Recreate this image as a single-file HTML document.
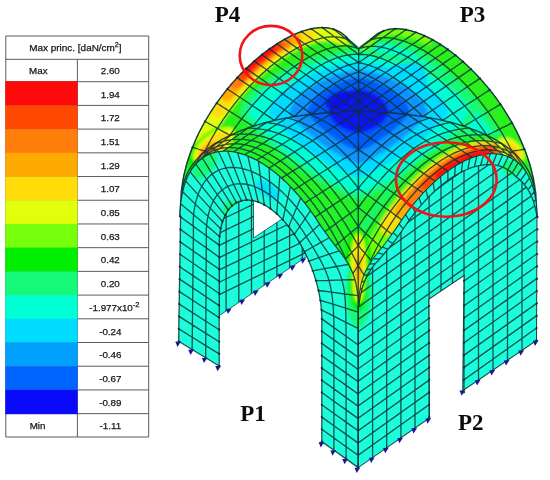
<!DOCTYPE html>
<html><head><meta charset="utf-8"><title>Max princ. stress</title>
<style>
html,body{margin:0;padding:0;background:#fff;}
svg{display:block;}
text{font-family:"Liberation Sans",sans-serif;}
.lb{font-family:"Liberation Serif",serif;font-weight:bold;font-size:23px;fill:#0c0c0c;}
</style></head><body>
<svg width="550" height="480" viewBox="0 0 550 480">
<defs>
<filter id="bl" x="-20%" y="-20%" width="140%" height="140%"><feGaussianBlur stdDeviation="1.8"/></filter>
<filter id="bl2" x="-20%" y="-20%" width="140%" height="140%"><feGaussianBlur stdDeviation="1.2"/></filter>
<filter id="soft" x="-5%" y="-5%" width="110%" height="110%"><feGaussianBlur stdDeviation="0.7"/></filter>
</defs>
<rect width="550" height="480" fill="#fff"/>
<path d="M5.8,36.00 L148.7,36.00 M5.8,59.30 L148.7,59.30 M5.8,81.70 L148.7,81.70 M5.8,105.41 L148.7,105.41 M5.8,129.12 L148.7,129.12 M5.8,152.83 L148.7,152.83 M5.8,176.54 L148.7,176.54 M5.8,200.25 L148.7,200.25 M5.8,223.96 L148.7,223.96 M5.8,247.67 L148.7,247.67 M5.8,271.38 L148.7,271.38 M5.8,295.09 L148.7,295.09 M5.8,318.80 L148.7,318.80 M5.8,342.51 L148.7,342.51 M5.8,366.22 L148.7,366.22 M5.8,389.93 L148.7,389.93 M5.8,413.64 L148.7,413.64 M5.8,437.00 L148.7,437.00 M5.8,36.00 L5.8,437.00 M148.7,36.00 L148.7,437.00 M77.4,59.30 L77.4,437.00" fill="none" stroke="#4a4a4a" stroke-width="0.9"/>
<rect x="5.3" y="81.20" width="72.3" height="24.41" fill="#ff0a0a"/>
<rect x="5.3" y="105.41" width="72.3" height="23.91" fill="#ff4800"/>
<rect x="5.3" y="129.12" width="72.3" height="23.91" fill="#ff7d0a"/>
<rect x="5.3" y="152.83" width="72.3" height="23.91" fill="#ffaa00"/>
<rect x="5.3" y="176.54" width="72.3" height="23.91" fill="#ffdc0a"/>
<rect x="5.3" y="200.25" width="72.3" height="23.91" fill="#e1ff0a"/>
<rect x="5.3" y="223.96" width="72.3" height="23.91" fill="#78ff0a"/>
<rect x="5.3" y="247.67" width="72.3" height="23.91" fill="#00f000"/>
<rect x="5.3" y="271.38" width="72.3" height="23.91" fill="#14fa78"/>
<rect x="5.3" y="295.09" width="72.3" height="23.91" fill="#00ffd2"/>
<rect x="5.3" y="318.80" width="72.3" height="23.91" fill="#00dcff"/>
<rect x="5.3" y="342.51" width="72.3" height="23.91" fill="#00a0ff"/>
<rect x="5.3" y="366.22" width="72.3" height="23.91" fill="#0064ff"/>
<rect x="5.3" y="389.93" width="72.3" height="24.21" fill="#0a0afa"/>
<text x="75.4" y="50.6" font-size="9.95" fill="#161616" stroke="#161616" stroke-width="0.25" text-anchor="middle">Max princ. [daN/cm<tspan font-size="7" dy="-3.4">2</tspan><tspan dy="3.4">]</tspan></text>
<text x="38.3" y="74.4" font-size="9.8" fill="#161616" stroke="#161616" stroke-width="0.25" text-anchor="middle">Max</text>
<text x="37.6" y="428.8" font-size="9.8" fill="#161616" stroke="#161616" stroke-width="0.25" text-anchor="middle">Min</text>
<text x="110.3" y="74.4" font-size="9.8" fill="#161616" stroke="#161616" stroke-width="0.25" text-anchor="middle">2.60</text>
<text x="110.3" y="97.5" font-size="9.8" fill="#161616" stroke="#161616" stroke-width="0.25" text-anchor="middle">1.94</text>
<text x="110.3" y="121.2" font-size="9.8" fill="#161616" stroke="#161616" stroke-width="0.25" text-anchor="middle">1.72</text>
<text x="110.3" y="144.9" font-size="9.8" fill="#161616" stroke="#161616" stroke-width="0.25" text-anchor="middle">1.51</text>
<text x="110.3" y="168.6" font-size="9.8" fill="#161616" stroke="#161616" stroke-width="0.25" text-anchor="middle">1.29</text>
<text x="110.3" y="192.3" font-size="9.8" fill="#161616" stroke="#161616" stroke-width="0.25" text-anchor="middle">1.07</text>
<text x="110.3" y="216.0" font-size="9.8" fill="#161616" stroke="#161616" stroke-width="0.25" text-anchor="middle">0.85</text>
<text x="110.3" y="239.7" font-size="9.8" fill="#161616" stroke="#161616" stroke-width="0.25" text-anchor="middle">0.63</text>
<text x="110.3" y="263.4" font-size="9.8" fill="#161616" stroke="#161616" stroke-width="0.25" text-anchor="middle">0.42</text>
<text x="110.3" y="287.1" font-size="9.8" fill="#161616" stroke="#161616" stroke-width="0.25" text-anchor="middle">0.20</text>
<text x="114.4" y="310.8" font-size="9.8" fill="#161616" stroke="#161616" stroke-width="0.25" text-anchor="middle">-1.977x10<tspan font-size="7.6" dy="-3.6">-2</tspan></text>
<text x="110.3" y="334.6" font-size="9.8" fill="#161616" stroke="#161616" stroke-width="0.25" text-anchor="middle">-0.24</text>
<text x="110.3" y="358.3" font-size="9.8" fill="#161616" stroke="#161616" stroke-width="0.25" text-anchor="middle">-0.46</text>
<text x="110.3" y="382.0" font-size="9.8" fill="#161616" stroke="#161616" stroke-width="0.25" text-anchor="middle">-0.67</text>
<text x="110.3" y="405.7" font-size="9.8" fill="#161616" stroke="#161616" stroke-width="0.25" text-anchor="middle">-0.89</text>
<text x="110.3" y="429.2" font-size="9.8" fill="#161616" stroke="#161616" stroke-width="0.25" text-anchor="middle">-1.11</text>
<g filter="url(#soft)">
<clipPath id="cv"><path d="M224.6,92.2 L213.4,107.6 L205.9,119.6 L198.5,133.5 L191.0,150.7 L187.3,161.7 L183.6,176.1 L179.9,217.1 L180.1,217.0 L183.9,187.4 L187.6,177.2 L191.3,170.4 L195.0,165.3 L198.7,161.4 L202.4,158.4 L206.1,156.0 L213.5,152.9 L220.9,151.5 L228.3,151.4 L235.7,152.4 L243.1,154.4 L250.5,157.3 L257.9,161.0 L269.0,168.1 L280.1,177.0 L287.6,183.9 L295.0,191.7 L302.4,200.3 L309.8,210.0 L317.2,220.8 L324.7,232.9 L332.1,246.6 L339.5,262.7 L343.2,271.9 L346.9,282.3 L350.6,294.5 L354.3,310.1 L358.1,345.1 L362.1,310.9 L365.8,295.7 L369.5,283.8 L373.2,273.6 L377.0,264.5 L384.4,248.8 L391.9,235.2 L399.3,223.3 L406.7,212.7 L414.2,203.1 L421.6,194.6 L429.1,186.9 L436.5,180.0 L447.7,171.1 L458.8,164.0 L466.3,160.2 L473.7,157.3 L481.2,155.2 L488.6,154.1 L496.0,154.0 L503.4,155.3 L510.9,158.2 L514.6,160.4 L518.3,163.2 L522.0,167.0 L525.7,171.8 L529.4,178.4 L533.1,188.3 L536.9,217.0 L537.1,217.1 L533.4,178.2 L529.7,163.7 L526.0,152.7 L518.6,135.2 L514.9,127.8 L507.4,114.7 L500.0,103.3 L488.9,88.5 L477.7,75.7 L466.6,64.6 L455.4,55.0 L444.3,46.8 L433.1,39.9 L422.0,34.5 L410.8,30.7 L403.4,29.1 L395.9,28.6 L388.5,29.3 L381.0,31.7 L377.3,33.8 L358.7,47.8 L344.0,34.8 L340.3,32.1 L336.5,30.1 L332.8,28.8 L329.0,28.0 L321.5,27.5 L314.1,28.2 L306.6,29.8 L299.1,32.3 L288.0,37.4 L276.8,43.8 L265.6,51.6 L254.4,60.7 L243.2,71.2 L232.0,83.2 L224.6,92.2Z"/></clipPath>
<path d="M224.6,92.2 L213.4,107.6 L205.9,119.6 L198.5,133.5 L191.0,150.7 L187.3,161.7 L183.6,176.1 L179.9,217.1 L180.1,217.0 L183.9,187.4 L187.6,177.2 L191.3,170.4 L195.0,165.3 L198.7,161.4 L202.4,158.4 L206.1,156.0 L213.5,152.9 L220.9,151.5 L228.3,151.4 L235.7,152.4 L243.1,154.4 L250.5,157.3 L257.9,161.0 L269.0,168.1 L280.1,177.0 L287.6,183.9 L295.0,191.7 L302.4,200.3 L309.8,210.0 L317.2,220.8 L324.7,232.9 L332.1,246.6 L339.5,262.7 L343.2,271.9 L346.9,282.3 L350.6,294.5 L354.3,310.1 L358.1,345.1 L362.1,310.9 L365.8,295.7 L369.5,283.8 L373.2,273.6 L377.0,264.5 L384.4,248.8 L391.9,235.2 L399.3,223.3 L406.7,212.7 L414.2,203.1 L421.6,194.6 L429.1,186.9 L436.5,180.0 L447.7,171.1 L458.8,164.0 L466.3,160.2 L473.7,157.3 L481.2,155.2 L488.6,154.1 L496.0,154.0 L503.4,155.3 L510.9,158.2 L514.6,160.4 L518.3,163.2 L522.0,167.0 L525.7,171.8 L529.4,178.4 L533.1,188.3 L536.9,217.0 L537.1,217.1 L533.4,178.2 L529.7,163.7 L526.0,152.7 L518.6,135.2 L514.9,127.8 L507.4,114.7 L500.0,103.3 L488.9,88.5 L477.7,75.7 L466.6,64.6 L455.4,55.0 L444.3,46.8 L433.1,39.9 L422.0,34.5 L410.8,30.7 L403.4,29.1 L395.9,28.6 L388.5,29.3 L381.0,31.7 L377.3,33.8 L358.7,47.8 L344.0,34.8 L340.3,32.1 L336.5,30.1 L332.8,28.8 L329.0,28.0 L321.5,27.5 L314.1,28.2 L306.6,29.8 L299.1,32.3 L288.0,37.4 L276.8,43.8 L265.6,51.6 L254.4,60.7 L243.2,71.2 L232.0,83.2 L224.6,92.2Z" fill="#1cfedb"/>
<g clip-path="url(#cv)"><g filter="url(#bl)">
<path d="M150.0,0.0 L550.0,0.0 L550.0,360.0 L150.0,360.0Z" fill="#22f226"/>
<path d="M202.3,148.2 L208.9,135.2 L215.5,123.8 L222.1,113.7 L228.7,104.5 L235.3,96.1 L241.9,88.4 L248.5,81.3 L255.1,74.7 L261.7,68.6 L268.3,63.0 L274.8,57.8 L281.4,53.1 L288.0,48.8 L294.6,45.0 L301.2,41.7 L307.8,38.9 L314.4,36.6 L321.0,35.1 L327.6,34.2 L334.2,34.4 L340.8,35.7 L347.4,38.6 L354.0,44.4 L360.6,50.3" fill="none" stroke="#2cf01c" stroke-width="30" stroke-linecap="round" stroke-linejoin="round"/>
<path d="M197.9,146.6 L204.0,133.8 L210.2,122.8 L216.3,113.0 L222.5,104.1 L228.6,95.9 L234.7,88.5 L240.9,81.5 L247.0,75.1 L253.2,69.2 L259.3,63.6 L265.5,58.5 L271.6,53.8 L277.8,49.4 L283.9,45.5 L290.1,41.9 L296.2,38.8 L302.4,36.1 L308.5,33.9 L314.6,32.3 L320.8,31.2 L326.9,30.9 L333.1,31.5 L339.2,33.2 L345.4,36.5" fill="none" stroke="#78ff0a" stroke-width="20" stroke-linecap="round" stroke-linejoin="round"/>
<path d="M358.7,48.1 L366.0,44.7 L373.2,43.3 L380.4,43.3 L387.6,44.4 L394.8,46.4 L402.1,49.1 L409.3,52.6 L416.5,56.6 L423.7,61.2 L430.9,66.4 L438.2,72.1 L445.4,78.4 L452.6,85.2 L459.8,92.6 L467.1,100.6 L474.3,109.3 L481.5,118.8 L488.7,129.0 L495.9,140.0 L495.9,140.0 L483.4,133.7 L471.0,128.7 L458.5,124.6 L446.0,121.3 L433.5,118.5 L421.0,116.3 L408.5,114.6 L396.0,113.3 L383.5,112.3 L371.0,111.8 L358.5,111.6 L358.5,111.6 L358.5,102.9 L358.5,94.6 L358.6,86.8 L358.6,79.6 L358.6,72.8 L358.6,66.7 L358.6,61.1 L358.7,56.3 L358.7,52.4 L358.7,49.6 L358.7,48.1 L358.7,48.1" fill="none" stroke="#14fa78" stroke-width="14" stroke-linecap="round" stroke-linejoin="round"/>
<path d="M358.7,48.1 L366.0,44.7 L373.2,43.3 L380.4,43.3 L387.6,44.4 L394.8,46.4 L402.1,49.1 L409.3,52.6 L416.5,56.6 L423.7,61.2 L430.9,66.4 L438.2,72.1 L445.4,78.4 L452.6,85.2 L459.8,92.6 L467.1,100.6 L474.3,109.3 L481.5,118.8 L488.7,129.0 L495.9,140.0 L495.9,140.0 L483.4,133.7 L471.0,128.7 L458.5,124.6 L446.0,121.3 L433.5,118.5 L421.0,116.3 L408.5,114.6 L396.0,113.3 L383.5,112.3 L371.0,111.8 L358.5,111.6 L358.5,111.6 L358.5,102.9 L358.5,94.6 L358.6,86.8 L358.6,79.6 L358.6,72.8 L358.6,66.7 L358.6,61.1 L358.7,56.3 L358.7,52.4 L358.7,49.6 L358.7,48.1Z" fill="#00ffd2"/>
<path d="M357.9,55.3 L364.8,45.0 L371.6,38.2 L378.5,34.6 L385.4,32.9 L392.2,32.5 L399.1,33.2 L406.0,34.7 L412.8,36.9 L419.7,39.7 L426.6,43.2 L433.4,47.1 L440.3,51.7 L447.2,56.7 L454.0,62.2 L460.9,68.2 L467.8,74.8 L474.6,82.0 L481.5,89.8 L488.4,98.4 L495.3,107.7 L502.1,118.1 L509.0,129.6 L515.9,142.9 L522.7,158.5" fill="none" stroke="#2cf01c" stroke-width="16" stroke-linecap="round" stroke-linejoin="round"/>
<path d="M363.2,49.6 L365.9,44.9 L368.6,41.3 L371.3,38.6 L373.9,36.5 L376.6,34.8 L379.3,33.4 L382.0,32.4 L384.6,31.7 L387.3,31.1 L390.0,30.8 L392.6,30.6 L395.3,30.7 L398.0,30.8 L400.7,31.1 L403.3,31.6 L406.0,32.1 L408.7,32.8 L411.4,33.6 L414.0,34.5 L416.7,35.5 L419.4,36.5 L422.1,37.7 L424.7,39.0 L427.4,40.3" fill="none" stroke="#78ff0a" stroke-width="9" stroke-linecap="round" stroke-linejoin="round"/>
<path d="M476.5,112.0 L475.6,114.1 L472.9,118.4 L468.5,124.2 L462.5,130.9 L455.0,138.4 L446.3,146.4 L436.7,154.5 L426.3,162.5 L415.5,170.3 L404.6,177.5 L393.9,184.0 L383.9,189.5 L374.8,194.0 L367.1,197.3 L361.4,199.3 L358.5,200.0 L355.6,199.3 L349.9,197.3 L342.2,194.0 L333.1,189.5 L323.1,184.0 L312.4,177.5 L301.5,170.3 L290.7,162.5 L280.3,154.5 L270.7,146.4 L262.0,138.4 L254.5,130.9 L248.5,124.2 L244.1,118.4 L241.4,114.1 L240.5,112.0 L241.2,108.5 L243.3,103.8 L246.8,98.6 L251.6,93.0 L257.7,87.4 L264.8,81.8 L273.0,76.3 L282.0,71.1 L291.7,66.3 L301.9,62.0 L312.4,58.2 L323.0,54.9 L333.4,52.4 L343.2,50.5 L352.0,49.4 L358.5,49.0 L365.0,49.4 L373.8,50.5 L383.6,52.4 L394.0,54.9 L404.6,58.2 L415.1,62.0 L425.3,66.3 L435.0,71.1 L444.0,76.3 L452.2,81.8 L459.3,87.4 L465.4,93.0 L470.2,98.6 L473.7,103.8 L475.8,108.5Z" fill="#14fa78"/>
<path d="M468.5,112.0 L467.7,114.0 L465.1,117.9 L461.0,123.2 L455.4,129.4 L448.5,136.3 L440.4,143.6 L431.4,151.1 L421.7,158.5 L411.6,165.7 L401.5,172.3 L391.5,178.2 L382.2,183.4 L373.7,187.5 L366.5,190.5 L361.2,192.4 L358.5,193.0 L355.8,192.4 L350.5,190.5 L343.3,187.5 L334.8,183.4 L325.5,178.2 L315.5,172.3 L305.4,165.7 L295.3,158.5 L285.6,151.1 L276.6,143.6 L268.5,136.3 L261.6,129.4 L256.0,123.2 L251.9,117.9 L249.3,114.0 L248.5,112.0 L249.2,108.9 L251.1,104.6 L254.4,99.9 L258.9,94.8 L264.5,89.7 L271.2,84.7 L278.8,79.7 L287.2,75.0 L296.2,70.7 L305.7,66.7 L315.5,63.3 L325.4,60.4 L335.1,58.1 L344.2,56.4 L352.5,55.3 L358.5,55.0 L364.5,55.3 L372.8,56.4 L381.9,58.1 L391.6,60.4 L401.5,63.3 L411.3,66.7 L420.8,70.7 L429.8,75.0 L438.2,79.7 L445.8,84.7 L452.5,89.7 L458.1,94.8 L462.6,99.9 L465.9,104.6 L467.8,108.9Z" fill="#00ffd2"/>
<path d="M448.5,112.0 L447.8,113.6 L445.7,116.8 L442.4,121.0 L437.8,126.0 L432.1,131.5 L425.5,137.4 L418.1,143.4 L410.2,149.3 L402.0,155.1 L393.6,160.4 L385.5,165.2 L377.9,169.3 L370.9,172.6 L365.1,175.0 L360.7,176.5 L358.5,177.0 L356.3,176.5 L351.9,175.0 L346.1,172.6 L339.1,169.3 L331.5,165.2 L323.4,160.4 L315.0,155.1 L306.8,149.3 L298.9,143.4 L291.5,137.4 L284.9,131.5 L279.2,126.0 L274.6,121.0 L271.3,116.8 L269.2,113.6 L268.5,112.0 L269.0,109.3 L270.7,105.5 L273.3,101.3 L277.0,97.0 L281.6,92.5 L287.0,88.0 L293.3,83.7 L300.1,79.6 L307.5,75.8 L315.3,72.3 L323.3,69.3 L331.4,66.7 L339.3,64.7 L346.8,63.2 L353.6,62.3 L358.5,62.0 L363.4,62.3 L370.2,63.2 L377.7,64.7 L385.6,66.7 L393.7,69.3 L401.7,72.3 L409.5,75.8 L416.9,79.6 L423.7,83.7 L430.0,88.0 L435.4,92.5 L440.0,97.0 L443.7,101.3 L446.3,105.5 L448.0,109.3Z" fill="#00dcff"/>
<ellipse cx="392" cy="93" rx="40" ry="24" fill="#00dcff" transform="rotate(-35 392 93)"/>
<path d="M427.5,112.0 L427.0,113.3 L425.4,115.8 L422.8,119.2 L419.3,123.2 L414.9,127.6 L409.9,132.3 L404.2,137.1 L398.1,141.9 L391.8,146.4 L385.4,150.7 L379.2,154.5 L373.3,157.8 L368.0,160.5 L363.5,162.4 L360.2,163.6 L358.5,164.0 L356.8,163.6 L353.5,162.4 L349.0,160.5 L343.7,157.8 L337.8,154.5 L331.6,150.7 L325.2,146.4 L318.9,141.9 L312.8,137.1 L307.1,132.3 L302.1,127.6 L297.7,123.2 L294.2,119.2 L291.6,115.8 L290.0,113.3 L289.5,112.0 L289.9,109.7 L291.2,106.6 L293.2,103.1 L296.0,99.4 L299.5,95.6 L303.7,91.9 L308.5,88.2 L313.8,84.8 L319.4,81.6 L325.4,78.7 L331.5,76.1 L337.7,74.0 L343.8,72.2 L349.6,71.0 L354.7,70.3 L358.5,70.0 L362.3,70.3 L367.4,71.0 L373.2,72.2 L379.3,74.0 L385.5,76.1 L391.6,78.7 L397.6,81.6 L403.2,84.8 L408.5,88.2 L413.3,91.9 L417.5,95.6 L421.0,99.4 L423.8,103.1 L425.8,106.6 L427.1,109.7Z" fill="#0a94ff"/>
<path d="M409.5,112.0 L409.1,112.9 L407.9,114.9 L406.0,117.4 L403.4,120.4 L400.2,123.7 L396.5,127.2 L392.3,130.8 L387.8,134.4 L383.1,137.8 L378.4,141.0 L373.8,143.9 L369.5,146.4 L365.5,148.3 L362.2,149.8 L359.7,150.7 L358.5,151.0 L357.3,150.7 L354.8,149.8 L351.5,148.3 L347.5,146.4 L343.2,143.9 L338.6,141.0 L333.9,137.8 L329.2,134.4 L324.7,130.8 L320.5,127.2 L316.8,123.7 L313.6,120.4 L311.0,117.4 L309.1,114.9 L307.9,112.9 L307.5,112.0 L307.8,110.1 L308.7,107.6 L310.2,104.8 L312.3,101.8 L314.9,98.7 L318.0,95.7 L321.5,92.8 L325.4,90.0 L329.6,87.4 L334.0,85.0 L338.6,82.9 L343.1,81.2 L347.6,79.8 L351.9,78.8 L355.7,78.2 L358.5,78.0 L361.3,78.2 L365.1,78.8 L369.4,79.8 L373.9,81.2 L378.4,82.9 L383.0,85.0 L387.4,87.4 L391.6,90.0 L395.5,92.8 L399.0,95.7 L402.1,98.7 L404.7,101.8 L406.8,104.8 L408.3,107.6 L409.2,110.1Z" fill="#005cfa"/>
<path d="M388.5,112.0 L388.3,113.3 L387.8,115.0 L387.0,116.8 L385.8,118.6 L384.3,120.5 L382.5,122.4 L380.5,124.2 L378.3,125.9 L375.9,127.4 L373.3,128.8 L370.7,130.1 L368.0,131.1 L365.3,131.9 L362.7,132.5 L360.3,132.9 L358.5,133.0 L356.7,132.9 L354.3,132.5 L351.7,131.9 L349.0,131.1 L346.3,130.1 L343.7,128.8 L341.1,127.4 L338.7,125.9 L336.5,124.2 L334.5,122.4 L332.7,120.5 L331.2,118.6 L330.0,116.8 L329.2,115.0 L328.7,113.3 L328.5,112.0 L328.7,110.2 L329.1,108.2 L329.9,106.1 L331.0,104.0 L332.4,101.9 L334.0,100.0 L335.9,98.1 L338.0,96.3 L340.3,94.7 L342.8,93.2 L345.4,92.0 L348.1,90.9 L350.8,90.1 L353.5,89.5 L356.2,89.1 L358.5,89.0 L360.8,89.1 L363.5,89.5 L366.2,90.1 L368.9,90.9 L371.6,92.0 L374.2,93.2 L376.7,94.7 L379.0,96.3 L381.1,98.1 L383.0,100.0 L384.6,101.9 L386.0,104.0 L387.1,106.1 L387.9,108.2 L388.3,110.2Z" fill="#0a12f2"/>
<ellipse cx="338" cy="100" rx="14" ry="8" fill="#0a0afa" transform="rotate(-25 338 100)" opacity="0.9"/>
<path d="M367.2,231.3 L372.4,223.1 L377.6,215.3 L382.8,208.0 L388.1,201.0 L393.3,194.4 L398.5,188.3 L403.7,182.5 L408.9,177.1 L414.1,172.1 L419.3,167.4 L424.6,163.1 L429.8,159.1 L435.0,155.6 L440.2,152.5 L445.4,149.7 L450.6,147.2 L455.9,145.2 L461.1,143.5 L466.3,142.2 L471.5,141.3 L476.7,140.8 L481.9,140.7 L487.1,141.0 L492.4,141.7" fill="none" stroke="#14fa78" stroke-width="14" stroke-linecap="round" stroke-linejoin="round"/>
<path d="M364.5,252.9 L370.5,242.1 L376.4,231.9 L382.4,222.4 L388.3,213.6 L394.3,205.4 L400.3,197.8 L406.2,190.8 L412.2,184.3 L418.1,178.3 L424.1,172.8 L430.1,167.8 L436.0,163.3 L442.0,159.3 L447.9,155.8 L453.9,152.7 L459.9,150.2 L465.8,148.1 L471.8,146.6 L477.7,145.7 L483.7,145.3 L489.7,145.6 L495.6,146.5 L501.6,148.2 L507.5,150.5" fill="none" stroke="#22f226" stroke-width="22" stroke-linecap="round" stroke-linejoin="round"/>
<path d="M206.8,152.6 L212.7,149.5 L218.6,147.2 L224.6,145.9 L230.5,145.3 L236.5,145.4 L242.4,146.2 L248.3,147.5 L254.3,149.5 L260.2,151.9 L266.2,154.9 L272.1,158.4 L278.0,162.4 L284.0,166.9 L289.9,172.0 L295.9,177.5 L301.8,183.6 L307.7,190.2 L313.7,197.4 L319.6,205.1 L325.6,213.5 L331.5,222.7 L337.4,232.6 L343.4,243.3 L349.3,255.0" fill="none" stroke="#22f226" stroke-width="14" stroke-linecap="round" stroke-linejoin="round"/>
<path d="M202.3,137.1 L208.1,126.3 L213.9,116.7 L219.7,108.0 L225.4,100.0 L231.2,92.7 L237.0,85.9 L242.8,79.5 L248.5,73.6 L254.3,68.1 L260.1,63.0 L265.8,58.2 L271.6,53.8 L277.4,49.7 L283.2,45.9 L288.9,42.5 L294.7,39.5 L300.5,36.9 L306.3,34.6 L312.0,32.9 L317.8,31.6 L323.6,31.0 L329.4,31.0 L335.1,31.9 L340.9,33.9" fill="none" stroke="#e1ff0a" stroke-width="20" stroke-linecap="round" stroke-linejoin="round"/>
<path d="M217.5,109.2 L221.3,103.9 L225.0,98.9 L228.7,94.1 L232.4,89.5 L236.2,85.2 L239.9,81.1 L243.6,77.1 L247.3,73.3 L251.1,69.7 L254.8,66.2 L258.5,62.9 L262.2,59.8 L266.0,56.8 L269.7,53.9 L273.4,51.2 L277.1,48.6 L280.9,46.2 L284.6,43.9 L288.3,41.8 L292.0,39.8 L295.8,37.9 L299.5,36.3 L303.2,34.8 L306.9,33.5" fill="none" stroke="#ffdc0a" stroke-width="17" stroke-linecap="round" stroke-linejoin="round"/>
<path d="M226.9,93.8 L229.7,90.3 L232.5,87.0 L235.3,83.7 L238.1,80.6 L240.9,77.6 L243.7,74.7 L246.5,71.9 L249.3,69.2 L252.1,66.6 L254.9,64.0 L257.7,61.6 L260.5,59.2 L263.2,56.9 L266.0,54.7 L268.8,52.6 L271.6,50.6 L274.4,48.6 L277.2,46.7 L280.0,44.9 L282.8,43.2 L285.6,41.6 L288.4,40.0 L291.2,38.6 L294.0,37.2" fill="none" stroke="#ffaa00" stroke-width="14" stroke-linecap="round" stroke-linejoin="round"/>
<path d="M235.4,82.8 L237.5,80.5 L239.5,78.3 L241.6,76.1 L243.6,74.0 L245.7,72.0 L247.7,70.0 L249.8,68.0 L251.8,66.1 L253.9,64.2 L255.9,62.4 L258.0,60.6 L260.0,58.9 L262.1,57.2 L264.1,55.6 L266.2,54.0 L268.2,52.4 L270.3,50.9 L272.3,49.5 L274.3,48.0 L276.4,46.7 L278.4,45.3 L280.5,44.0 L282.5,42.8 L284.6,41.6" fill="none" stroke="#ff7d0a" stroke-width="13" stroke-linecap="round" stroke-linejoin="round"/>
<path d="M241.2,75.7 L242.8,74.1 L244.3,72.6 L245.8,71.1 L247.3,69.6 L248.9,68.1 L250.4,66.7 L251.9,65.3 L253.5,63.9 L255.0,62.5 L256.5,61.2 L258.0,59.9 L259.6,58.6 L261.1,57.3 L262.6,56.1 L264.1,54.9 L265.7,53.7 L267.2,52.5 L268.7,51.4 L270.3,50.3 L271.8,49.2 L273.3,48.1 L274.8,47.1 L276.4,46.1 L277.9,45.1" fill="none" stroke="#ff4800" stroke-width="11" stroke-linecap="round" stroke-linejoin="round"/>
<path d="M244.8,70.6 L246.0,69.4 L247.1,68.3 L248.3,67.2 L249.4,66.1 L250.6,65.1 L251.7,64.0 L252.9,63.0 L254.1,61.9 L255.2,60.9 L256.4,59.9 L257.5,58.9 L258.7,58.0 L259.8,57.0 L261.0,56.1 L262.1,55.1 L263.3,54.2 L264.4,53.3 L265.6,52.4 L266.8,51.6 L267.9,50.7 L269.1,49.9 L270.2,49.0 L271.4,48.2 L272.5,47.4" fill="none" stroke="#ff0a0a" stroke-width="9" stroke-linecap="round" stroke-linejoin="round"/>
<path d="M369.0,258.0 L374.6,246.9 L380.3,236.7 L385.9,227.3 L391.6,218.6 L397.3,210.6 L402.9,203.1 L408.6,196.2 L414.2,189.8 L419.9,183.9 L425.6,178.5 L431.2,173.5 L436.9,168.9 L442.6,164.8 L448.2,161.1 L453.9,157.9 L459.5,155.1 L465.2,152.8 L470.9,151.0 L476.5,149.6 L482.2,148.8 L487.9,148.6 L493.5,149.0 L499.2,150.1 L504.8,152.0" fill="none" stroke="#78ff0a" stroke-width="17" stroke-linecap="round" stroke-linejoin="round"/>
<path d="M387.7,226.5 L392.5,219.2 L397.3,212.4 L402.0,206.0 L406.8,200.0 L411.6,194.4 L416.3,189.1 L421.1,184.2 L425.9,179.6 L430.6,175.3 L435.4,171.4 L440.2,167.7 L444.9,164.4 L449.7,161.4 L454.5,158.7 L459.2,156.3 L464.0,154.2 L468.8,152.5 L473.5,151.1 L478.3,150.1 L483.1,149.4 L487.9,149.2 L492.6,149.4 L497.4,150.2 L502.2,151.4" fill="none" stroke="#ffdc0a" stroke-width="16" stroke-linecap="round" stroke-linejoin="round"/>
<path d="M400.2,212.1 L404.3,206.6 L408.4,201.4 L412.5,196.6 L416.6,192.0 L420.7,187.6 L424.8,183.5 L428.9,179.6 L433.0,176.0 L437.1,172.6 L441.2,169.4 L445.3,166.5 L449.4,163.8 L453.5,161.4 L457.6,159.1 L461.7,157.2 L465.8,155.4 L469.9,153.9 L474.0,152.7 L478.1,151.7 L482.2,151.0 L486.3,150.6 L490.4,150.5 L494.5,150.8 L498.6,151.5" fill="none" stroke="#ffaa00" stroke-width="13" stroke-linecap="round" stroke-linejoin="round"/>
<path d="M410.1,201.1 L413.6,196.9 L417.2,192.9 L420.8,189.0 L424.4,185.4 L427.9,182.0 L431.5,178.7 L435.1,175.6 L438.7,172.7 L442.2,169.9 L445.8,167.4 L449.4,165.0 L453.0,162.8 L456.6,160.8 L460.1,158.9 L463.7,157.2 L467.3,155.8 L470.9,154.5 L474.4,153.4 L478.0,152.5 L481.6,151.8 L485.2,151.4 L488.7,151.2 L492.3,151.2 L495.9,151.6" fill="none" stroke="#ff7d0a" stroke-width="12" stroke-linecap="round" stroke-linejoin="round"/>
<path d="M425.3,186.0 L428.0,183.3 L430.8,180.7 L433.5,178.3 L436.3,175.9 L439.0,173.7 L441.8,171.5 L444.6,169.5 L447.3,167.6 L450.1,165.7 L452.8,164.0 L455.6,162.4 L458.3,160.9 L461.1,159.5 L463.9,158.2 L466.6,157.0 L469.4,155.9 L472.1,155.0 L474.9,154.1 L477.6,153.4 L480.4,152.8 L483.1,152.3 L485.9,152.0 L488.7,151.8 L491.4,151.8" fill="none" stroke="#ff4800" stroke-width="10" stroke-linecap="round" stroke-linejoin="round"/>
<path d="M439.1,175.6 L441.0,174.0 L443.0,172.5 L444.9,171.1 L446.9,169.7 L448.8,168.3 L450.7,167.0 L452.7,165.8 L454.6,164.6 L456.5,163.5 L458.5,162.4 L460.4,161.4 L462.4,160.4 L464.3,159.5 L466.2,158.6 L468.2,157.8 L470.1,157.0 L472.0,156.3 L474.0,155.7 L475.9,155.1 L477.9,154.6 L479.8,154.1 L481.7,153.7 L483.7,153.4 L485.6,153.1" fill="none" stroke="#ff0a0a" stroke-width="8" stroke-linecap="round" stroke-linejoin="round"/>
<ellipse cx="213" cy="147" rx="30" ry="15" fill="#00f000" transform="rotate(-38 213 147)"/>
<ellipse cx="214" cy="145" rx="25" ry="11.5" fill="#e1ff0a" transform="rotate(-38 214 145)"/>
<ellipse cx="213" cy="146" rx="20" ry="8.5" fill="#ffdc0a" transform="rotate(-38 213 146)"/>
<ellipse cx="209" cy="150" rx="11" ry="5.5" fill="#ffaa00" transform="rotate(-38 209 150)"/>
<ellipse cx="206" cy="153" rx="5.5" ry="3.2" fill="#ff7d0a" transform="rotate(-38 206 153)"/>
<ellipse cx="511" cy="150" rx="16" ry="9.5" fill="#e1ff0a" transform="rotate(40 511 150)"/>
<ellipse cx="512" cy="151" rx="11.5" ry="6.5" fill="#ffdc0a" transform="rotate(40 512 151)"/>
<ellipse cx="513" cy="153" rx="5" ry="3.5" fill="#ffaa00" transform="rotate(40 513 153)"/>
<ellipse cx="358.5" cy="270" rx="14" ry="42" fill="#00f000"/>
<ellipse cx="358.5" cy="266" rx="8" ry="33" fill="#e1ff0a"/>
<ellipse cx="358.5" cy="265" rx="5" ry="28" fill="#ffdc0a"/>
<ellipse cx="358.5" cy="268" rx="2.6" ry="14" fill="#ffaa00"/>
</g></g>
<path d="M269.1,168.0 L271.0,166.8 L272.8,165.6 L274.7,164.5 L276.6,163.3 L278.4,162.1 L280.3,160.9 L282.1,159.8 L284.0,158.6 L285.9,157.4 L287.7,156.2 L289.6,155.1 L291.4,153.9 L293.3,152.7 L295.2,151.5 L297.0,150.4 L298.9,149.2 L300.8,148.0 L302.6,146.8 L304.5,145.7 L306.4,144.5 L308.2,143.3 L310.1,142.2 L311.9,141.0 L313.8,139.8 L315.7,138.6 L317.5,137.4 L319.4,136.3 L321.2,135.1 L323.1,133.9 L325.0,132.8 L326.8,131.6 L328.7,130.4 L330.6,129.2 L332.4,128.0 L334.3,126.9 L336.1,125.7 L338.0,124.5 L339.9,123.4 L341.7,122.2 L343.6,121.0 L345.5,119.8 L347.3,118.6 L349.2,117.5 L351.1,116.3 L352.9,115.1 L354.8,113.9 L356.6,112.8 L358.5,111.6 M358.5,111.6 L360.4,112.8 L362.2,114.1 L364.1,115.3 L365.9,116.6 L367.8,117.8 L369.6,119.0 L371.5,120.3 L373.4,121.5 L375.2,122.7 L377.1,124.0 L378.9,125.2 L380.8,126.4 L382.6,127.7 L384.5,128.9 L386.3,130.2 L388.2,131.4 L390.1,132.6 L391.9,133.9 L393.8,135.1 L395.6,136.3 L397.5,137.6 L399.3,138.8 L401.2,140.1 L403.1,141.3 L404.9,142.5 L406.8,143.8 L408.6,145.0 L410.5,146.2 L412.3,147.5 L414.2,148.7 L416.0,150.0 L417.9,151.2 L419.8,152.4 L421.6,153.7 L423.5,154.9 L425.3,156.2 L427.2,157.4 L429.0,158.6 L430.9,159.9 L432.8,161.1 L434.6,162.3 L436.5,163.6 L438.3,164.8 L440.2,166.1 L442.0,167.3 L443.9,168.5 L445.7,169.8 L447.6,171.0 M281.6,178.1 L283.4,176.9 L285.3,175.7 L287.2,174.6 L289.1,173.4 L291.0,172.2 L292.8,171.1 L294.7,169.9 L296.6,168.7 L298.5,167.6 L300.3,166.4 L302.2,165.2 L304.1,164.1 L306.0,162.9 L307.8,161.7 L309.7,160.6 L311.6,159.4 L313.5,158.2 L315.3,157.1 L317.2,155.9 L319.1,154.7 L321.0,153.6 L322.8,152.4 L324.7,151.2 L326.6,150.1 L328.5,148.9 L330.3,147.7 L332.2,146.6 L334.1,145.4 L336.0,144.2 L337.8,143.1 L339.7,141.9 L341.6,140.7 L343.5,139.6 L345.3,138.4 L347.2,137.2 L349.1,136.1 L351.0,134.9 L352.8,133.7 L354.7,132.6 L356.6,131.4 L358.5,130.2 M383.5,112.3 L385.4,113.6 L387.2,114.8 L389.1,116.0 L391.0,117.3 L392.8,118.5 L394.7,119.8 L396.6,121.0 L398.4,122.2 L400.3,123.5 L402.2,124.7 L404.0,126.0 L405.9,127.2 L407.8,128.4 L409.7,129.7 L411.5,130.9 L413.4,132.2 L415.3,133.4 L417.1,134.6 L419.0,135.9 L420.9,137.1 L422.7,138.3 L424.6,139.6 L426.5,140.8 L428.3,142.1 L430.2,143.3 L432.1,144.5 L434.0,145.8 L435.8,147.0 L437.7,148.3 L439.6,149.5 L441.4,150.7 L443.3,152.0 L445.2,153.2 L447.0,154.5 L448.9,155.7 L450.8,156.9 L452.6,158.2 L454.5,159.4 L456.4,160.6 L458.2,161.9 L460.1,163.1 M293.6,190.0 L295.5,188.8 L297.3,187.7 L299.2,186.5 L301.0,185.4 L302.9,184.2 L304.7,183.0 L306.6,181.9 L308.4,180.7 L310.3,179.6 L312.1,178.4 L314.0,177.3 L315.8,176.1 L317.7,175.0 L319.5,173.8 L321.4,172.7 L323.2,171.5 L325.1,170.4 L326.9,169.2 L328.8,168.1 L330.6,166.9 L332.5,165.8 L334.3,164.6 L336.2,163.5 L338.0,162.3 L339.9,161.2 L341.8,160.0 L343.6,158.9 L345.5,157.7 L347.3,156.6 L349.2,155.4 L351.0,154.3 L352.9,153.1 L354.7,152.0 L356.6,150.8 L358.4,149.7 M407.6,114.5 L409.4,115.7 L411.3,116.9 L413.1,118.2 L415.0,119.4 L416.8,120.6 L418.7,121.9 L420.5,123.1 L422.4,124.3 L424.2,125.6 L426.0,126.8 L427.9,128.0 L429.7,129.3 L431.6,130.5 L433.4,131.7 L435.3,133.0 L437.1,134.2 L439.0,135.4 L440.8,136.7 L442.7,137.9 L444.5,139.1 L446.3,140.4 L448.2,141.6 L450.0,142.8 L451.9,144.1 L453.7,145.3 L455.6,146.5 L457.4,147.8 L459.3,149.0 L461.1,150.2 L463.0,151.5 L464.8,152.7 L466.6,153.9 L468.5,155.2 L470.3,156.4 L472.2,157.6 M304.7,203.0 L306.6,201.9 L308.4,200.7 L310.3,199.5 L312.1,198.3 L314.0,197.2 L315.8,196.0 L317.7,194.8 L319.5,193.7 L321.4,192.5 L323.2,191.3 L325.1,190.1 L326.9,189.0 L328.8,187.8 L330.6,186.6 L332.5,185.5 L334.3,184.3 L336.2,183.1 L338.0,181.9 L339.9,180.8 L341.7,179.6 L343.6,178.4 L345.4,177.2 L347.3,176.1 L349.1,174.9 L351.0,173.7 L352.8,172.6 L354.7,171.4 L356.5,170.2 L358.4,169.0 M429.9,117.8 L431.7,119.1 L433.6,120.4 L435.4,121.6 L437.3,122.9 L439.1,124.2 L441.0,125.4 L442.8,126.7 L444.6,128.0 L446.5,129.2 L448.3,130.5 L450.2,131.8 L452.0,133.0 L453.9,134.3 L455.7,135.6 L457.6,136.8 L459.4,138.1 L461.2,139.4 L463.1,140.6 L464.9,141.9 L466.8,143.2 L468.6,144.4 L470.5,145.7 L472.3,147.0 L474.1,148.2 L476.0,149.5 L477.8,150.8 L479.7,152.0 L481.5,153.3 L483.4,154.6 M315.0,217.1 L316.9,215.8 L318.8,214.6 L320.6,213.3 L322.5,212.1 L324.4,210.8 L326.3,209.6 L328.2,208.3 L330.1,207.1 L332.0,205.8 L333.8,204.6 L335.7,203.3 L337.6,202.1 L339.5,200.8 L341.4,199.6 L343.3,198.3 L345.1,197.1 L347.0,195.8 L348.9,194.6 L350.8,193.3 L352.7,192.1 L354.6,190.8 L356.5,189.5 L358.3,188.3 M450.4,122.4 L452.3,123.7 L454.2,125.1 L456.1,126.5 L457.9,127.8 L459.8,129.2 L461.7,130.6 L463.6,131.9 L465.5,133.3 L467.3,134.7 L469.2,136.0 L471.1,137.4 L473.0,138.7 L474.9,140.1 L476.7,141.5 L478.6,142.8 L480.5,144.2 L482.4,145.6 L484.2,146.9 L486.1,148.3 L488.0,149.7 L489.9,151.0 L491.8,152.4 L493.6,153.7 M324.3,232.0 L326.2,230.7 L328.1,229.3 L330.0,227.9 L331.9,226.6 L333.8,225.2 L335.7,223.8 L337.6,222.5 L339.4,221.1 L341.3,219.7 L343.2,218.4 L345.1,217.0 L347.0,215.6 L348.9,214.3 L350.8,212.9 L352.7,211.5 L354.5,210.2 L356.4,208.8 L358.3,207.4 M469.2,128.1 L471.1,129.6 L472.9,131.1 L474.8,132.6 L476.7,134.1 L478.6,135.5 L480.5,137.0 L482.3,138.5 L484.2,140.0 L486.1,141.5 L488.0,143.0 L489.9,144.5 L491.7,146.0 L493.6,147.5 L495.5,149.0 L497.4,150.5 L499.3,152.0 L501.1,153.5 L503.0,155.0 M332.8,247.8 L334.6,246.2 L336.4,244.7 L338.3,243.2 L340.1,241.7 L341.9,240.2 L343.7,238.6 L345.5,237.1 L347.4,235.6 L349.2,234.1 L351.0,232.6 L352.8,231.0 L354.6,229.5 L356.5,228.0 L358.3,226.5 M486.1,135.0 L487.9,136.6 L489.8,138.3 L491.6,140.0 L493.4,141.6 L495.2,143.3 L497.0,145.0 L498.8,146.6 L500.6,148.3 L502.5,150.0 L504.3,151.7 L506.1,153.3 L507.9,155.0 L509.7,156.7 L511.5,158.3 M340.4,264.4 L342.2,262.5 L344.0,260.7 L345.7,258.8 L347.5,256.9 L349.3,255.0 L351.1,253.2 L352.9,251.3 L354.7,249.4 L356.5,247.6 L358.3,245.7 M501.3,143.3 L503.1,145.3 L504.9,147.4 L506.6,149.4 L508.4,151.5 L510.2,153.5 L512.0,155.6 L513.8,157.6 L515.6,159.7 L517.3,161.7 L519.1,163.8 M347.1,282.3 L348.9,279.5 L350.8,276.7 L352.6,273.9 L354.5,271.1 L356.4,268.4 L358.2,265.6 M514.7,153.6 L516.5,156.6 L518.4,159.6 L520.3,162.7 L522.1,165.7 L524.0,168.7 L525.8,171.7 M256.6,160.2 L258.5,159.0 L260.4,157.8 L262.3,156.7 L264.1,155.5 L266.0,154.3 L267.9,153.2 L269.8,152.0 L271.6,150.8 L273.5,149.7 L275.4,148.5 L277.3,147.3 L279.1,146.2 L281.0,145.0 L282.9,143.8 L284.8,142.7 L286.6,141.5 L288.5,140.3 L290.4,139.2 L292.3,138.0 L294.1,136.8 L296.0,135.7 L297.9,134.5 L299.8,133.3 L301.6,132.2 L303.5,131.0 L305.4,129.8 L307.3,128.7 L309.1,127.5 L311.0,126.3 L312.9,125.2 L314.8,124.0 L316.6,122.8 L318.5,121.7 L320.4,120.5 L322.3,119.3 L324.1,118.2 L326.0,117.0 L327.9,115.8 L329.8,114.7 L331.6,113.5 L333.5,112.3 M358.5,130.2 L360.3,131.5 L362.2,132.7 L364.1,134.0 L365.9,135.2 L367.8,136.4 L369.7,137.7 L371.5,138.9 L373.4,140.2 L375.3,141.4 L377.1,142.6 L379.0,143.9 L380.9,145.1 L382.8,146.4 L384.6,147.6 L386.5,148.8 L388.4,150.1 L390.2,151.3 L392.1,152.5 L394.0,153.8 L395.8,155.0 L397.7,156.3 L399.6,157.5 L401.4,158.7 L403.3,160.0 L405.2,161.2 L407.1,162.5 L408.9,163.7 L410.8,164.9 L412.7,166.2 L414.5,167.4 L416.4,168.7 L418.3,169.9 L420.1,171.1 L422.0,172.4 L423.9,173.6 L425.7,174.8 L427.6,176.1 L429.5,177.3 L431.3,178.6 L433.2,179.8 L435.1,181.0 M244.6,154.8 L246.4,153.6 L248.3,152.5 L250.2,151.3 L252.0,150.2 L253.9,149.0 L255.7,147.8 L257.6,146.7 L259.4,145.5 L261.3,144.4 L263.1,143.2 L265.0,142.1 L266.8,140.9 L268.7,139.8 L270.5,138.6 L272.4,137.5 L274.2,136.3 L276.1,135.2 L277.9,134.0 L279.8,132.9 L281.6,131.7 L283.5,130.6 L285.3,129.4 L287.2,128.3 L289.0,127.1 L290.9,126.0 L292.7,124.8 L294.6,123.7 L296.4,122.5 L298.3,121.4 L300.2,120.2 L302.0,119.1 L303.9,117.9 L305.7,116.8 L307.6,115.6 L309.4,114.5 M358.4,149.7 L360.3,150.9 L362.1,152.1 L364.0,153.4 L365.8,154.6 L367.6,155.8 L369.5,157.1 L371.3,158.3 L373.2,159.5 L375.0,160.8 L376.9,162.0 L378.7,163.2 L380.6,164.5 L382.4,165.7 L384.3,166.9 L386.1,168.2 L387.9,169.4 L389.8,170.6 L391.6,171.9 L393.5,173.1 L395.3,174.3 L397.2,175.6 L399.0,176.8 L400.9,178.0 L402.7,179.3 L404.6,180.5 L406.4,181.7 L408.2,183.0 L410.1,184.2 L411.9,185.4 L413.8,186.7 L415.6,187.9 L417.5,189.1 L419.3,190.4 L421.2,191.6 L423.0,192.8 M233.5,151.8 L235.3,150.7 L237.2,149.5 L239.0,148.3 L240.9,147.1 L242.7,146.0 L244.6,144.8 L246.4,143.6 L248.3,142.5 L250.1,141.3 L252.0,140.1 L253.8,138.9 L255.7,137.8 L257.5,136.6 L259.4,135.4 L261.2,134.3 L263.1,133.1 L264.9,131.9 L266.8,130.7 L268.6,129.6 L270.5,128.4 L272.3,127.2 L274.2,126.0 L276.0,124.9 L277.9,123.7 L279.7,122.5 L281.6,121.4 L283.4,120.2 L285.3,119.0 L287.1,117.8 M358.4,169.0 L360.2,170.3 L362.1,171.6 L363.9,172.8 L365.8,174.1 L367.6,175.4 L369.4,176.6 L371.3,177.9 L373.1,179.2 L375.0,180.4 L376.8,181.7 L378.7,183.0 L380.5,184.2 L382.3,185.5 L384.2,186.8 L386.0,188.0 L387.9,189.3 L389.7,190.6 L391.6,191.8 L393.4,193.1 L395.2,194.4 L397.1,195.6 L398.9,196.9 L400.8,198.2 L402.6,199.4 L404.5,200.7 L406.3,202.0 L408.2,203.2 L410.0,204.5 L411.8,205.8 M223.2,151.2 L225.1,149.9 L227.0,148.7 L228.9,147.4 L230.8,146.2 L232.6,144.9 L234.5,143.7 L236.4,142.4 L238.3,141.2 L240.2,139.9 L242.1,138.7 L244.0,137.4 L245.8,136.2 L247.7,134.9 L249.6,133.6 L251.5,132.4 L253.4,131.1 L255.3,129.9 L257.1,128.6 L259.0,127.4 L260.9,126.1 L262.8,124.9 L264.7,123.6 L266.6,122.4 M358.3,188.3 L360.2,189.7 L362.1,191.0 L364.0,192.4 L365.9,193.8 L367.7,195.1 L369.6,196.5 L371.5,197.8 L373.4,199.2 L375.3,200.6 L377.1,201.9 L379.0,203.3 L380.9,204.7 L382.8,206.0 L384.6,207.4 L386.5,208.8 L388.4,210.1 L390.3,211.5 L392.2,212.8 L394.0,214.2 L395.9,215.6 L397.8,216.9 L399.7,218.3 L401.6,219.7 M213.9,152.7 L215.7,151.3 L217.6,149.9 L219.5,148.6 L221.4,147.2 L223.3,145.8 L225.2,144.5 L227.1,143.1 L229.0,141.7 L230.8,140.4 L232.7,139.0 L234.6,137.6 L236.5,136.3 L238.4,134.9 L240.3,133.5 L242.2,132.2 L244.1,130.8 L245.9,129.4 L247.8,128.1 M358.3,207.4 L360.2,208.9 L362.1,210.4 L364.0,211.9 L365.8,213.4 L367.7,214.9 L369.6,216.4 L371.5,217.9 L373.4,219.4 L375.2,220.9 L377.1,222.4 L379.0,223.9 L380.9,225.4 L382.8,226.9 L384.6,228.4 L386.5,229.9 L388.4,231.4 L390.3,232.9 L392.2,234.4 M205.4,156.2 L207.2,154.7 L209.0,153.2 L210.9,151.7 L212.7,150.2 L214.5,148.6 L216.3,147.1 L218.1,145.6 L220.0,144.1 L221.8,142.6 L223.6,141.0 L225.4,139.5 L227.2,138.0 L229.1,136.5 L230.9,135.0 M358.3,226.5 L360.1,228.1 L361.9,229.8 L363.7,231.5 L365.5,233.2 L367.4,234.8 L369.2,236.5 L371.0,238.2 L372.8,239.8 L374.6,241.5 L376.4,243.2 L378.2,244.8 L380.1,246.5 L381.9,248.2 L383.7,249.9 M197.8,162.0 L199.6,160.1 L201.4,158.3 L203.2,156.4 L205.0,154.5 L206.8,152.6 L208.5,150.8 L210.3,148.9 L212.1,147.0 L213.9,145.2 L215.7,143.3 M358.3,245.7 L360.0,247.7 L361.8,249.8 L363.6,251.8 L365.4,253.9 L367.2,255.9 L369.0,258.0 L370.7,260.0 L372.5,262.1 L374.3,264.1 L376.1,266.2 M191.1,170.3 L193.0,167.5 L194.9,164.7 L196.7,161.9 L198.6,159.1 L200.5,156.4 L202.3,153.6 M358.2,265.6 L360.1,268.6 L361.9,271.6 L363.8,274.7 L365.7,277.7 L367.5,280.7 L369.4,283.7 M333.5,112.3 L335.4,113.3 L337.3,114.4 L339.3,115.4 L341.2,116.5 L343.1,117.7 L345.0,118.9 L346.9,120.3 L348.9,121.8 L350.8,123.4 L352.7,125.1 L354.6,126.8 L356.5,128.5 L358.5,130.2 M358.5,130.2 L360.4,128.6 L362.3,126.9 L364.2,125.3 L366.2,123.7 L368.1,122.2 L370.0,120.7 L371.9,119.3 L373.9,118.0 L375.8,116.8 L377.7,115.6 L379.6,114.5 L381.6,113.4 L383.5,112.3 M309.4,114.5 L311.3,115.2 L313.2,116.0 L315.1,116.8 L317.0,117.6 L318.8,118.5 L320.7,119.5 L322.6,120.4 L324.5,121.4 L326.4,122.5 L328.3,123.6 L330.1,124.7 L332.0,125.9 L333.9,127.1 L335.8,128.6 L337.7,130.1 L339.6,131.7 L341.5,133.3 L343.3,135.0 L345.2,136.7 L347.1,138.4 L349.0,140.2 L350.9,142.0 L352.8,143.9 L354.6,145.8 L356.5,147.7 L358.4,149.7 M358.4,149.7 L360.3,147.8 L362.2,145.9 L364.1,144.1 L366.0,142.3 L367.9,140.6 L369.8,138.9 L371.7,137.2 L373.5,135.6 L375.4,134.0 L377.3,132.4 L379.2,130.9 L381.1,129.4 L383.0,127.9 L384.9,126.7 L386.8,125.4 L388.7,124.3 L390.6,123.1 L392.5,122.0 L394.3,120.9 L396.2,119.9 L398.1,118.9 L400.0,118.0 L401.9,117.0 L403.8,116.1 L405.7,115.3 L407.6,114.5 M287.1,117.8 L289.0,118.4 L290.9,118.9 L292.7,119.5 L294.6,120.1 L296.5,120.8 L298.4,121.5 L300.2,122.2 L302.1,123.0 L304.0,123.8 L305.9,124.6 L307.7,125.5 L309.6,126.4 L311.5,127.4 L313.4,128.4 L315.2,129.5 L317.1,130.6 L319.0,131.7 L320.9,132.9 L322.7,134.2 L324.6,135.6 L326.5,137.1 L328.4,138.7 L330.2,140.3 L332.1,141.9 L334.0,143.6 L335.9,145.3 L337.7,147.1 L339.6,148.9 L341.5,150.7 L343.4,152.6 L345.2,154.5 L347.1,156.5 L349.0,158.5 L350.9,160.5 L352.8,162.6 L354.6,164.7 L356.5,166.9 L358.4,169.0 M358.4,169.0 L360.3,167.0 L362.1,164.9 L364.0,162.9 L365.9,160.9 L367.8,158.9 L369.7,157.0 L371.6,155.1 L373.4,153.2 L375.3,151.4 L377.2,149.6 L379.1,147.9 L381.0,146.2 L382.8,144.5 L384.7,142.9 L386.6,141.3 L388.5,139.8 L390.4,138.3 L392.3,136.8 L394.1,135.4 L396.0,134.1 L397.9,132.9 L399.8,131.7 L401.7,130.5 L403.6,129.4 L405.4,128.4 L407.3,127.3 L409.2,126.3 L411.1,125.4 L413.0,124.5 L414.8,123.6 L416.7,122.8 L418.6,122.0 L420.5,121.2 L422.4,120.5 L424.3,119.8 L426.1,119.1 L428.0,118.4 L429.9,117.8 M266.6,122.4 L268.4,122.7 L270.3,123.0 L272.2,123.3 L274.1,123.7 L275.9,124.1 L277.8,124.6 L279.7,125.1 L281.6,125.6 L283.4,126.2 L285.3,126.8 L287.2,127.5 L289.0,128.2 L290.9,129.0 L292.8,129.8 L294.7,130.6 L296.5,131.5 L298.4,132.4 L300.3,133.3 L302.2,134.3 L304.0,135.4 L305.9,136.5 L307.8,137.6 L309.6,138.8 L311.5,140.0 L313.4,141.4 L315.3,142.8 L317.1,144.3 L319.0,145.9 L320.9,147.5 L322.8,149.1 L324.6,150.8 L326.5,152.6 L328.4,154.3 L330.3,156.1 L332.1,158.0 L334.0,159.9 L335.9,161.8 L337.7,163.8 L339.6,165.9 L341.5,167.9 L343.4,170.0 L345.2,172.2 L347.1,174.4 L349.0,176.6 L350.9,178.9 L352.7,181.2 L354.6,183.5 L356.5,185.9 L358.3,188.3 M358.3,188.3 L360.2,186.0 L362.1,183.7 L364.0,181.5 L365.9,179.3 L367.7,177.1 L369.6,175.0 L371.5,172.8 L373.4,170.8 L375.3,168.7 L377.1,166.7 L379.0,164.8 L380.9,162.8 L382.8,161.0 L384.7,159.1 L386.5,157.3 L388.4,155.5 L390.3,153.8 L392.2,152.1 L394.1,150.5 L395.9,148.9 L397.8,147.3 L399.7,145.8 L401.6,144.3 L403.4,142.9 L405.3,141.5 L407.2,140.3 L409.1,139.1 L411.0,137.9 L412.8,136.8 L414.7,135.7 L416.6,134.6 L418.5,133.6 L420.4,132.7 L422.2,131.7 L424.1,130.9 L426.0,130.0 L427.9,129.2 L429.8,128.4 L431.6,127.7 L433.5,127.0 L435.4,126.4 L437.3,125.8 L439.2,125.2 L441.0,124.6 L442.9,124.1 L444.8,123.6 L446.7,123.2 L448.5,122.8 L450.4,122.4 M247.8,128.1 L249.7,128.1 L251.5,128.2 L253.4,128.3 L255.2,128.4 L257.0,128.6 L258.9,128.8 L260.7,129.1 L262.6,129.3 L264.4,129.7 L266.2,130.0 L268.1,130.5 L269.9,130.9 L271.8,131.4 L273.6,132.0 L275.5,132.5 L277.3,133.2 L279.1,133.8 L281.0,134.6 L282.8,135.3 L284.7,136.1 L286.5,137.0 L288.3,137.9 L290.2,138.8 L292.0,139.8 L293.9,140.8 L295.7,141.9 L297.5,143.0 L299.4,144.1 L301.2,145.3 L303.1,146.6 L304.9,148.0 L306.8,149.4 L308.6,150.9 L310.4,152.5 L312.3,154.0 L314.1,155.7 L316.0,157.3 L317.8,159.0 L319.6,160.8 L321.5,162.6 L323.3,164.4 L325.2,166.3 L327.0,168.2 L328.9,170.2 L330.7,172.2 L332.5,174.3 L334.4,176.4 L336.2,178.5 L338.1,180.7 L339.9,182.9 L341.7,185.2 L343.6,187.5 L345.4,189.9 L347.3,192.3 L349.1,194.7 L350.9,197.2 L352.8,199.7 L354.6,202.3 L356.5,204.8 L358.3,207.4 M358.3,207.4 L360.2,205.0 L362.0,202.5 L363.9,200.1 L365.7,197.7 L367.6,195.3 L369.4,192.9 L371.2,190.6 L373.1,188.3 L374.9,186.1 L376.8,183.9 L378.6,181.8 L380.5,179.6 L382.3,177.5 L384.2,175.5 L386.0,173.5 L387.9,171.5 L389.7,169.6 L391.6,167.7 L393.4,165.9 L395.3,164.1 L397.1,162.4 L399.0,160.6 L400.8,159.0 L402.7,157.3 L404.5,155.7 L406.4,154.2 L408.2,152.7 L410.0,151.2 L411.9,149.8 L413.7,148.4 L415.6,147.2 L417.4,145.9 L419.3,144.8 L421.1,143.6 L423.0,142.5 L424.8,141.5 L426.7,140.5 L428.5,139.5 L430.4,138.5 L432.2,137.7 L434.1,136.8 L435.9,136.0 L437.8,135.2 L439.6,134.5 L441.5,133.8 L443.3,133.2 L445.2,132.6 L447.0,132.0 L448.8,131.5 L450.7,131.0 L452.5,130.6 L454.4,130.2 L456.2,129.8 L458.1,129.4 L459.9,129.1 L461.8,128.9 L463.6,128.6 L465.5,128.4 L467.3,128.2 L469.2,128.1 M230.9,135.0 L232.7,134.8 L234.6,134.6 L236.4,134.4 L238.3,134.3 L240.1,134.2 L242.0,134.1 L243.8,134.1 L245.6,134.1 L247.5,134.2 L249.3,134.3 L251.2,134.5 L253.0,134.7 L254.9,134.9 L256.7,135.3 L258.6,135.6 L260.4,136.0 L262.3,136.5 L264.1,137.0 L266.0,137.5 L267.8,138.1 L269.7,138.8 L271.5,139.5 L273.3,140.2 L275.2,141.0 L277.0,141.8 L278.9,142.7 L280.7,143.6 L282.6,144.6 L284.4,145.6 L286.3,146.6 L288.1,147.7 L290.0,148.9 L291.8,150.1 L293.7,151.3 L295.5,152.6 L297.3,154.0 L299.2,155.5 L301.0,157.0 L302.9,158.6 L304.7,160.2 L306.6,161.8 L308.4,163.5 L310.3,165.2 L312.1,167.0 L314.0,168.8 L315.8,170.7 L317.7,172.6 L319.5,174.6 L321.4,176.6 L323.2,178.6 L325.0,180.7 L326.9,182.9 L328.7,185.1 L330.6,187.3 L332.4,189.6 L334.3,192.0 L336.1,194.4 L338.0,196.8 L339.8,199.3 L341.7,201.8 L343.5,204.4 L345.4,207.0 L347.2,209.7 L349.1,212.4 L350.9,215.2 L352.7,218.0 L354.6,220.8 L356.4,223.6 L358.3,226.5 M358.3,226.5 L360.1,223.8 L362.0,221.1 L363.8,218.4 L365.7,215.7 L367.5,213.1 L369.4,210.4 L371.3,207.9 L373.1,205.3 L375.0,202.8 L376.8,200.4 L378.7,198.0 L380.5,195.6 L382.4,193.3 L384.2,191.0 L386.1,188.8 L387.9,186.6 L389.8,184.4 L391.6,182.3 L393.5,180.3 L395.3,178.3 L397.2,176.3 L399.0,174.4 L400.9,172.5 L402.8,170.7 L404.6,168.9 L406.5,167.2 L408.3,165.4 L410.2,163.8 L412.0,162.2 L413.9,160.6 L415.7,159.1 L417.6,157.6 L419.4,156.2 L421.3,154.8 L423.1,153.4 L425.0,152.2 L426.8,151.0 L428.7,149.8 L430.5,148.7 L432.4,147.6 L434.2,146.5 L436.1,145.6 L438.0,144.6 L439.8,143.7 L441.7,142.8 L443.5,142.0 L445.4,141.2 L447.2,140.5 L449.1,139.8 L450.9,139.2 L452.8,138.6 L454.6,138.0 L456.5,137.5 L458.3,137.0 L460.2,136.6 L462.0,136.2 L463.9,135.9 L465.7,135.6 L467.6,135.4 L469.5,135.2 L471.3,135.0 L473.2,134.9 L475.0,134.8 L476.9,134.8 L478.7,134.8 L480.6,134.8 L482.4,134.9 L484.3,134.9 L486.1,135.0 M215.7,143.3 L217.6,142.8 L219.4,142.3 L221.3,141.8 L223.1,141.3 L225.0,140.9 L226.8,140.5 L228.7,140.2 L230.5,139.9 L232.4,139.6 L234.2,139.5 L236.1,139.3 L237.9,139.3 L239.8,139.3 L241.6,139.3 L243.5,139.4 L245.3,139.6 L247.2,139.8 L249.0,140.1 L250.9,140.4 L252.7,140.8 L254.6,141.2 L256.4,141.7 L258.3,142.2 L260.1,142.8 L262.0,143.5 L263.8,144.1 L265.7,144.9 L267.5,145.7 L269.4,146.5 L271.2,147.4 L273.1,148.3 L274.9,149.3 L276.8,150.3 L278.6,151.3 L280.5,152.5 L282.4,153.6 L284.2,154.8 L286.1,156.1 L287.9,157.4 L289.8,158.8 L291.6,160.3 L293.5,161.8 L295.3,163.3 L297.2,164.9 L299.0,166.6 L300.9,168.2 L302.7,170.0 L304.6,171.8 L306.4,173.6 L308.3,175.5 L310.1,177.4 L312.0,179.4 L313.8,181.4 L315.7,183.5 L317.5,185.6 L319.4,187.8 L321.2,190.0 L323.1,192.3 L324.9,194.6 L326.8,197.0 L328.6,199.4 L330.5,201.9 L332.3,204.5 L334.2,207.1 L336.0,209.8 L337.9,212.5 L339.7,215.3 L341.6,218.1 L343.4,221.0 L345.3,223.9 L347.2,227.0 L349.0,230.0 L350.9,233.1 L352.7,236.2 L354.6,239.4 L356.4,242.6 L358.3,245.7 M358.3,245.7 L360.1,242.7 L362.0,239.7 L363.8,236.7 L365.7,233.7 L367.5,230.7 L369.4,227.8 L371.3,224.9 L373.1,222.1 L375.0,219.2 L376.8,216.5 L378.7,213.8 L380.6,211.1 L382.4,208.6 L384.3,206.0 L386.1,203.5 L388.0,201.1 L389.8,198.7 L391.7,196.4 L393.6,194.1 L395.4,191.9 L397.3,189.7 L399.1,187.6 L401.0,185.5 L402.8,183.4 L404.7,181.4 L406.6,179.5 L408.4,177.6 L410.3,175.8 L412.1,174.0 L414.0,172.2 L415.8,170.5 L417.7,168.8 L419.6,167.2 L421.4,165.6 L423.3,164.1 L425.1,162.6 L427.0,161.2 L428.9,159.8 L430.7,158.5 L432.6,157.2 L434.4,156.0 L436.3,154.8 L438.1,153.7 L440.0,152.6 L441.9,151.6 L443.7,150.6 L445.6,149.6 L447.4,148.7 L449.3,147.8 L451.1,147.0 L453.0,146.3 L454.9,145.5 L456.7,144.9 L458.6,144.2 L460.4,143.7 L462.3,143.1 L464.1,142.7 L466.0,142.2 L467.9,141.9 L469.7,141.5 L471.6,141.2 L473.4,141.0 L475.3,140.9 L477.2,140.7 L479.0,140.7 L480.9,140.7 L482.7,140.7 L484.6,140.8 L486.4,140.9 L488.3,141.1 L490.2,141.4 L492.0,141.6 L493.9,142.0 L495.7,142.3 L497.6,142.7 L499.4,143.0 L501.3,143.3 M202.3,153.6 L204.2,152.8 L206.0,151.8 L207.9,150.9 L209.7,149.9 L211.6,149.0 L213.4,148.2 L215.3,147.4 L217.2,146.7 L219.0,146.1 L220.9,145.5 L222.7,145.0 L224.6,144.7 L226.4,144.3 L228.3,144.1 L230.2,143.9 L232.0,143.8 L233.9,143.8 L235.7,143.8 L237.6,143.9 L239.4,144.0 L241.3,144.2 L243.1,144.5 L245.0,144.8 L246.9,145.2 L248.7,145.6 L250.6,146.1 L252.4,146.7 L254.3,147.3 L256.1,147.9 L258.0,148.6 L259.9,149.4 L261.7,150.2 L263.6,151.1 L265.4,152.0 L267.3,152.9 L269.1,153.9 L271.0,155.0 L272.8,156.1 L274.7,157.2 L276.6,158.4 L278.4,159.7 L280.3,160.9 L282.1,162.3 L284.0,163.8 L285.8,165.2 L287.7,166.7 L289.6,168.3 L291.4,169.9 L293.3,171.6 L295.1,173.3 L297.0,175.1 L298.8,176.9 L300.7,178.7 L302.5,180.6 L304.4,182.6 L306.3,184.6 L308.1,186.7 L310.0,188.8 L311.8,191.0 L313.7,193.2 L315.5,195.5 L317.4,197.8 L319.3,200.2 L321.1,202.7 L323.0,205.2 L324.8,207.8 L326.7,210.4 L328.5,213.1 L330.4,215.9 L332.2,218.7 L334.1,221.7 L336.0,224.7 L337.8,227.7 L339.7,230.9 L341.5,234.1 L343.4,237.4 L345.2,240.7 L347.1,244.2 L349.0,247.7 L350.8,251.3 L352.7,254.9 L354.5,258.5 L356.4,262.1 L358.2,265.6 M358.2,265.6 L360.1,262.3 L362.0,258.9 L363.8,255.5 L365.7,252.0 L367.5,248.6 L369.4,245.2 L371.3,241.8 L373.1,238.6 L375.0,235.4 L376.9,232.2 L378.7,229.2 L380.6,226.2 L382.4,223.3 L384.3,220.5 L386.2,217.7 L388.0,215.0 L389.9,212.3 L391.8,209.7 L393.6,207.2 L395.5,204.7 L397.3,202.3 L399.2,200.0 L401.1,197.7 L402.9,195.4 L404.8,193.2 L406.7,191.1 L408.5,189.0 L410.4,187.0 L412.2,185.0 L414.1,183.1 L416.0,181.2 L417.8,179.3 L419.7,177.6 L421.6,175.8 L423.4,174.1 L425.3,172.5 L427.1,170.9 L429.0,169.3 L430.9,167.8 L432.7,166.4 L434.6,164.9 L436.5,163.6 L438.3,162.3 L440.2,161.0 L442.0,159.8 L443.9,158.7 L445.8,157.5 L447.6,156.5 L449.5,155.5 L451.4,154.5 L453.2,153.6 L455.1,152.7 L456.9,151.9 L458.8,151.1 L460.7,150.3 L462.5,149.7 L464.4,149.0 L466.3,148.4 L468.1,147.9 L470.0,147.4 L471.8,147.0 L473.7,146.6 L475.6,146.3 L477.4,146.1 L479.3,145.9 L481.2,145.7 L483.0,145.6 L484.9,145.6 L486.8,145.7 L488.6,145.8 L490.5,146.0 L492.3,146.2 L494.2,146.5 L496.1,146.9 L497.9,147.4 L499.8,147.9 L501.6,148.5 L503.5,149.2 L505.4,149.9 L507.2,150.7 L509.1,151.5 L511.0,152.3 L512.8,153.0 L514.7,153.6 M203.2,156.4 L205.0,155.1 L206.9,153.9 L208.7,152.8 L210.6,151.8 L212.4,151.0 L214.3,150.3 L216.1,149.6 L218.0,149.1 L219.8,148.6 L221.7,148.3 L223.5,148.0 L225.4,147.8 L227.3,147.7 L229.1,147.6 L231.0,147.6 L232.8,147.7 L234.7,147.9 L236.5,148.1 L238.4,148.4 L240.2,148.7 L242.1,149.1 L243.9,149.5 L245.8,150.1 L247.6,150.6 L249.5,151.2 L251.3,151.9 L253.2,152.7 L255.0,153.4 L256.9,154.3 L258.7,155.1 L260.6,156.1 L262.4,157.1 L264.3,158.1 L266.1,159.2 L268.0,160.3 L269.8,161.5 L271.7,162.7 L273.5,164.0 L275.4,165.3 L277.2,166.7 L279.1,168.1 L280.9,169.6 L282.8,171.1 L284.6,172.7 L286.5,174.3 L288.3,176.0 L290.2,177.7 L292.1,179.5 L293.9,181.4 L295.8,183.2 L297.6,185.2 L299.5,187.2 L301.3,189.2 L303.2,191.3 L305.0,193.4 L306.9,195.6 L308.7,197.9 L310.6,200.2 L312.4,202.6 L314.3,205.0 L316.1,207.6 L318.0,210.1 L319.8,212.8 L321.7,215.5 L323.5,218.3 L325.4,221.1 L327.2,224.1 L329.1,227.1 L330.9,230.2 L332.8,233.4 L334.6,236.7 L336.5,240.1 L338.3,243.6 L340.2,247.2 L342.0,250.9 L343.9,254.8 L345.7,258.8 M370.7,260.0 L372.6,256.2 L374.4,252.4 L376.3,248.8 L378.2,245.2 L380.0,241.8 L381.9,238.5 L383.7,235.3 L385.6,232.1 L387.5,229.1 L389.3,226.1 L391.2,223.2 L393.0,220.4 L394.9,217.7 L396.7,215.0 L398.6,212.4 L400.5,209.9 L402.3,207.4 L404.2,205.0 L406.0,202.7 L407.9,200.4 L409.7,198.2 L411.6,196.0 L413.5,193.9 L415.3,191.8 L417.2,189.8 L419.0,187.8 L420.9,185.9 L422.7,184.1 L424.6,182.2 L426.5,180.5 L428.3,178.8 L430.2,177.1 L432.0,175.5 L433.9,173.9 L435.8,172.4 L437.6,170.9 L439.5,169.5 L441.3,168.1 L443.2,166.8 L445.0,165.5 L446.9,164.3 L448.8,163.1 L450.6,162.0 L452.5,160.9 L454.3,159.8 L456.2,158.8 L458.0,157.9 L459.9,157.0 L461.8,156.1 L463.6,155.3 L465.5,154.6 L467.3,153.9 L469.2,153.2 L471.0,152.6 L472.9,152.1 L474.8,151.6 L476.6,151.2 L478.5,150.8 L480.3,150.5 L482.2,150.3 L484.1,150.1 L485.9,149.9 L487.8,149.9 L489.6,149.9 L491.5,150.0 L493.3,150.1 L495.2,150.3 L497.1,150.6 L498.9,151.0 L500.8,151.5 L502.6,152.1 L504.5,152.7 L506.3,153.5 L508.2,154.4 L510.1,155.3 L511.9,156.4 L513.8,157.6 M269.4,49.0 L271.3,50.3 L273.1,51.6 L275.0,52.9 L276.8,54.2 L278.7,55.5 L280.5,56.8 L282.4,58.1 L284.2,59.4 L286.1,60.7 L288.0,62.0 L289.8,63.3 L291.7,64.7 L293.5,66.0 L295.4,67.3 L297.2,68.6 L299.1,69.9 L301.0,71.2 L302.8,72.5 L304.7,73.8 L306.5,75.1 L308.4,76.4 L310.2,77.7 L312.1,79.0 L313.9,80.3 L315.8,81.6 L317.7,82.9 L319.5,84.2 L321.4,85.5 L323.2,86.8 L325.1,88.1 L326.9,89.4 L328.8,90.7 L330.7,92.0 L332.5,93.3 L334.4,94.6 L336.2,95.9 L338.1,97.3 L339.9,98.6 L341.8,99.9 L343.6,101.2 L345.5,102.5 L347.4,103.8 L349.2,105.1 L351.1,106.4 L352.9,107.7 L354.8,109.0 L356.6,110.3 L358.5,111.6 M358.5,111.6 L360.4,110.3 L362.2,109.0 L364.1,107.7 L365.9,106.4 L367.8,105.1 L369.7,103.8 L371.5,102.5 L373.4,101.2 L375.3,100.0 L377.1,98.7 L379.0,97.4 L380.9,96.1 L382.7,94.8 L384.6,93.5 L386.4,92.2 L388.3,90.9 L390.2,89.6 L392.0,88.3 L393.9,87.0 L395.8,85.7 L397.6,84.4 L399.5,83.1 L401.3,81.8 L403.2,80.5 L405.1,79.3 L406.9,78.0 L408.8,76.7 L410.6,75.4 L412.5,74.1 L414.4,72.8 L416.2,71.5 L418.1,70.2 L420.0,68.9 L421.8,67.6 L423.7,66.3 L425.6,65.0 L427.4,63.7 L429.3,62.4 L431.1,61.1 L433.0,59.8 L434.9,58.6 L436.7,57.3 L438.6,56.0 L440.4,54.7 L442.3,53.4 L444.2,52.1 L446.0,50.8 L447.9,49.5 M276.9,43.9 L278.8,45.2 L280.6,46.5 L282.5,47.8 L284.3,49.1 L286.2,50.4 L288.0,51.7 L289.9,53.0 L291.7,54.3 L293.6,55.6 L295.5,56.9 L297.3,58.2 L299.2,59.5 L301.0,60.8 L302.9,62.1 L304.7,63.4 L306.6,64.7 L308.4,66.0 L310.3,67.3 L312.2,68.6 L314.0,69.9 L315.9,71.2 L317.7,72.6 L319.6,73.9 L321.4,75.2 L323.3,76.5 L325.1,77.8 L327.0,79.1 L328.8,80.4 L330.7,81.7 L332.6,83.0 L334.4,84.3 L336.3,85.6 L338.1,86.9 L340.0,88.2 L341.8,89.5 L343.7,90.8 L345.5,92.1 L347.4,93.4 L349.3,94.7 L351.1,96.0 L353.0,97.3 L354.8,98.6 L356.7,99.9 L358.5,101.2 M373.5,111.9 L375.4,110.6 L377.2,109.3 L379.1,108.0 L380.9,106.7 L382.8,105.4 L384.7,104.1 L386.5,102.8 L388.4,101.6 L390.2,100.3 L392.1,99.0 L394.0,97.7 L395.8,96.4 L397.7,95.1 L399.6,93.8 L401.4,92.5 L403.3,91.3 L405.1,90.0 L407.0,88.7 L408.9,87.4 L410.7,86.1 L412.6,84.8 L414.4,83.5 L416.3,82.2 L418.2,80.9 L420.0,79.7 L421.9,78.4 L423.7,77.1 L425.6,75.8 L427.5,74.5 L429.3,73.2 L431.2,71.9 L433.1,70.6 L434.9,69.4 L436.8,68.1 L438.6,66.8 L440.5,65.5 L442.4,64.2 L444.2,62.9 L446.1,61.6 L447.9,60.3 L449.8,59.0 L451.7,57.8 L453.5,56.5 L455.4,55.2 M284.6,39.3 L286.4,40.6 L288.3,41.9 L290.1,43.2 L292.0,44.5 L293.8,45.8 L295.7,47.1 L297.5,48.4 L299.4,49.7 L301.2,51.0 L303.1,52.3 L304.9,53.6 L306.8,54.9 L308.6,56.2 L310.5,57.5 L312.3,58.8 L314.2,60.1 L316.0,61.4 L317.9,62.7 L319.7,64.0 L321.6,65.3 L323.4,66.6 L325.3,67.9 L327.1,69.2 L329.0,70.5 L330.8,71.8 L332.7,73.1 L334.5,74.4 L336.4,75.7 L338.2,77.0 L340.1,78.2 L341.9,79.5 L343.8,80.8 L345.6,82.1 L347.5,83.4 L349.3,84.7 L351.2,86.0 L353.0,87.3 L354.9,88.6 L356.7,89.9 L358.6,91.2 M388.8,112.7 L390.7,111.4 L392.6,110.1 L394.4,108.8 L396.3,107.6 L398.1,106.3 L400.0,105.0 L401.8,103.7 L403.7,102.5 L405.5,101.2 L407.4,99.9 L409.3,98.6 L411.1,97.4 L413.0,96.1 L414.8,94.8 L416.7,93.5 L418.5,92.3 L420.4,91.0 L422.2,89.7 L424.1,88.4 L425.9,87.2 L427.8,85.9 L429.7,84.6 L431.5,83.3 L433.4,82.1 L435.2,80.8 L437.1,79.5 L438.9,78.2 L440.8,77.0 L442.6,75.7 L444.5,74.4 L446.4,73.1 L448.2,71.9 L450.1,70.6 L451.9,69.3 L453.8,68.0 L455.6,66.7 L457.5,65.5 L459.3,64.2 L461.2,62.9 L463.0,61.6 M292.6,35.2 L294.5,36.5 L296.3,37.8 L298.1,39.1 L300.0,40.4 L301.8,41.7 L303.6,43.0 L305.5,44.2 L307.3,45.5 L309.1,46.8 L311.0,48.1 L312.8,49.4 L314.6,50.7 L316.5,52.0 L318.3,53.3 L320.1,54.5 L321.9,55.8 L323.8,57.1 L325.6,58.4 L327.4,59.7 L329.3,61.0 L331.1,62.3 L332.9,63.6 L334.8,64.8 L336.6,66.1 L338.4,67.4 L340.3,68.7 L342.1,70.0 L343.9,71.3 L345.8,72.6 L347.6,73.9 L349.4,75.1 L351.3,76.4 L353.1,77.7 L354.9,79.0 L356.7,80.3 L358.6,81.6 M404.9,114.2 L406.7,112.9 L408.6,111.6 L410.4,110.4 L412.3,109.1 L414.1,107.9 L415.9,106.6 L417.8,105.4 L419.6,104.1 L421.4,102.9 L423.3,101.6 L425.1,100.4 L427.0,99.1 L428.8,97.9 L430.6,96.6 L432.5,95.4 L434.3,94.1 L436.2,92.9 L438.0,91.6 L439.8,90.4 L441.7,89.1 L443.5,87.9 L445.3,86.6 L447.2,85.4 L449.0,84.1 L450.9,82.9 L452.7,81.6 L454.5,80.4 L456.4,79.1 L458.2,77.9 L460.0,76.6 L461.9,75.4 L463.7,74.1 L465.6,72.9 L467.4,71.6 L469.2,70.4 L471.1,69.1 M301.6,31.6 L303.4,32.9 L305.3,34.2 L307.1,35.5 L308.9,36.8 L310.8,38.1 L312.6,39.4 L314.5,40.7 L316.3,42.0 L318.1,43.3 L320.0,44.6 L321.8,45.9 L323.7,47.2 L325.5,48.5 L327.3,49.8 L329.2,51.1 L331.0,52.4 L332.9,53.7 L334.7,55.0 L336.5,56.3 L338.4,57.6 L340.2,58.9 L342.1,60.2 L343.9,61.5 L345.7,62.8 L347.6,64.1 L349.4,65.4 L351.3,66.7 L353.1,68.0 L354.9,69.3 L356.8,70.6 L358.6,71.9 M422.8,116.6 L424.6,115.4 L426.5,114.1 L428.3,112.9 L430.1,111.7 L432.0,110.4 L433.8,109.2 L435.7,108.0 L437.5,106.7 L439.4,105.5 L441.2,104.3 L443.1,103.0 L444.9,101.8 L446.8,100.6 L448.6,99.3 L450.4,98.1 L452.3,96.9 L454.1,95.7 L456.0,94.4 L457.8,93.2 L459.7,92.0 L461.5,90.7 L463.4,89.5 L465.2,88.3 L467.1,87.0 L468.9,85.8 L470.7,84.6 L472.6,83.3 L474.4,82.1 L476.3,80.9 L478.1,79.6 L480.0,78.4 M311.4,28.8 L313.3,30.2 L315.2,31.5 L317.1,32.9 L319.0,34.2 L320.9,35.6 L322.8,36.9 L324.6,38.3 L326.5,39.6 L328.4,41.0 L330.3,42.3 L332.2,43.7 L334.1,45.0 L336.0,46.4 L337.9,47.8 L339.8,49.1 L341.6,50.5 L343.5,51.8 L345.4,53.2 L347.3,54.5 L349.2,55.9 L351.1,57.2 L353.0,58.6 L354.9,59.9 L356.8,61.3 L358.6,62.6 M442.4,120.4 L444.3,119.2 L446.2,118.0 L448.1,116.8 L450.0,115.5 L451.9,114.3 L453.8,113.1 L455.7,111.9 L457.6,110.6 L459.5,109.4 L461.3,108.2 L463.2,107.0 L465.1,105.8 L467.0,104.5 L468.9,103.3 L470.8,102.1 L472.7,100.9 L474.6,99.7 L476.5,98.4 L478.4,97.2 L480.3,96.0 L482.2,94.8 L484.1,93.5 L486.0,92.3 L487.9,91.1 L489.8,89.9 M322.1,27.6 L324.0,28.9 L325.8,30.3 L327.6,31.6 L329.5,33.0 L331.3,34.3 L333.1,35.7 L334.9,37.0 L336.8,38.4 L338.6,39.7 L340.4,41.1 L342.2,42.4 L344.1,43.8 L345.9,45.1 L347.7,46.5 L349.5,47.8 L351.4,49.2 L353.2,50.5 L355.0,51.8 L356.9,53.2 L358.7,54.5 M463.8,126.3 L465.6,125.2 L467.5,124.1 L469.3,123.0 L471.1,121.9 L473.0,120.8 L474.8,119.7 L476.6,118.6 L478.5,117.5 L480.3,116.4 L482.1,115.3 L484.0,114.2 L485.8,113.1 L487.6,112.0 L489.5,110.9 L491.3,109.8 L493.1,108.7 L495.0,107.6 L496.8,106.5 L498.6,105.4 L500.5,104.3 M333.8,29.3 L335.7,30.8 L337.6,32.3 L339.5,33.8 L341.4,35.3 L343.4,36.9 L345.3,38.4 L347.2,39.9 L349.1,41.4 L351.0,42.9 L353.0,44.4 L354.9,45.9 L356.8,47.5 L358.7,49.0 M487.0,135.4 L488.9,134.4 L490.9,133.5 L492.8,132.5 L494.7,131.6 L496.6,130.6 L498.6,129.6 L500.5,128.7 L502.4,127.7 L504.3,126.8 L506.3,125.8 L508.2,124.8 L510.1,123.9 L512.1,122.9 M346.3,37.2 L348.1,39.0 L349.8,40.7 L351.6,42.5 L353.4,44.2 L355.2,45.9 L357.0,47.7 M512.0,151.2 L513.8,150.9 L515.6,150.6 L517.4,150.3 L519.2,150.1 L520.9,149.8 L522.7,149.5 L524.5,149.2 M261.9,54.7 L263.7,56.0 L265.6,57.3 L267.5,58.6 L269.3,59.9 L271.2,61.2 L273.0,62.5 L274.9,63.8 L276.7,65.1 L278.6,66.4 L280.4,67.7 L282.3,69.0 L284.1,70.3 L286.0,71.6 L287.9,72.9 L289.7,74.2 L291.6,75.5 L293.4,76.8 L295.3,78.1 L297.1,79.4 L299.0,80.7 L300.8,82.0 L302.7,83.3 L304.6,84.6 L306.4,85.9 L308.3,87.2 L310.1,88.5 L312.0,89.8 L313.8,91.1 L315.7,92.4 L317.5,93.7 L319.4,95.0 L321.2,96.3 L323.1,97.6 L325.0,98.9 L326.8,100.2 L328.7,101.5 L330.5,102.8 L332.4,104.1 L334.2,105.4 L336.1,106.7 L337.9,108.0 L339.8,109.3 L341.7,110.6 L343.5,111.9 M358.5,101.2 L360.4,99.9 L362.2,98.6 L364.1,97.3 L366.0,96.0 L367.8,94.7 L369.7,93.4 L371.6,92.2 L373.4,90.9 L375.3,89.6 L377.1,88.3 L379.0,87.0 L380.9,85.7 L382.7,84.4 L384.6,83.1 L386.4,81.8 L388.3,80.5 L390.2,79.3 L392.0,78.0 L393.9,76.7 L395.7,75.4 L397.6,74.1 L399.5,72.8 L401.3,71.5 L403.2,70.2 L405.1,68.9 L406.9,67.6 L408.8,66.4 L410.6,65.1 L412.5,63.8 L414.4,62.5 L416.2,61.2 L418.1,59.9 L419.9,58.6 L421.8,57.3 L423.7,56.0 L425.5,54.7 L427.4,53.5 L429.2,52.2 L431.1,50.9 L433.0,49.6 L434.8,48.3 L436.7,47.0 L438.6,45.7 L440.4,44.4 M254.2,61.1 L256.1,62.4 L257.9,63.7 L259.7,65.0 L261.6,66.3 L263.4,67.5 L265.3,68.8 L267.1,70.1 L269.0,71.4 L270.8,72.7 L272.7,74.0 L274.5,75.3 L276.4,76.6 L278.2,77.9 L280.1,79.1 L281.9,80.4 L283.8,81.7 L285.6,83.0 L287.5,84.3 L289.3,85.6 L291.2,86.9 L293.0,88.2 L294.9,89.5 L296.7,90.8 L298.6,92.0 L300.4,93.3 L302.3,94.6 L304.1,95.9 L306.0,97.2 L307.8,98.5 L309.7,99.8 L311.5,101.1 L313.4,102.4 L315.2,103.6 L317.1,104.9 L318.9,106.2 L320.8,107.5 L322.6,108.8 L324.5,110.1 L326.3,111.4 L328.2,112.7 M358.6,91.2 L360.4,89.9 L362.3,88.7 L364.1,87.4 L366.0,86.1 L367.8,84.8 L369.7,83.5 L371.5,82.2 L373.4,81.0 L375.2,79.7 L377.1,78.4 L379.0,77.1 L380.8,75.8 L382.7,74.5 L384.5,73.3 L386.4,72.0 L388.2,70.7 L390.1,69.4 L391.9,68.1 L393.8,66.8 L395.7,65.6 L397.5,64.3 L399.4,63.0 L401.2,61.7 L403.1,60.4 L404.9,59.1 L406.8,57.9 L408.6,56.6 L410.5,55.3 L412.3,54.0 L414.2,52.7 L416.1,51.4 L417.9,50.2 L419.8,48.9 L421.6,47.6 L423.5,46.3 L425.3,45.0 L427.2,43.7 L429.0,42.5 L430.9,41.2 L432.8,39.9 M246.2,68.5 L248.0,69.8 L249.8,71.0 L251.7,72.3 L253.5,73.6 L255.3,74.9 L257.1,76.1 L259.0,77.4 L260.8,78.7 L262.6,79.9 L264.5,81.2 L266.3,82.5 L268.1,83.7 L270.0,85.0 L271.8,86.3 L273.6,87.5 L275.5,88.8 L277.3,90.1 L279.1,91.3 L281.0,92.6 L282.8,93.9 L284.6,95.1 L286.4,96.4 L288.3,97.7 L290.1,98.9 L291.9,100.2 L293.8,101.5 L295.6,102.7 L297.4,104.0 L299.3,105.3 L301.1,106.5 L302.9,107.8 L304.8,109.1 L306.6,110.3 L308.4,111.6 L310.3,112.9 L312.1,114.2 M358.6,81.6 L360.4,80.3 L362.3,79.0 L364.1,77.8 L365.9,76.5 L367.8,75.2 L369.6,74.0 L371.4,72.7 L373.3,71.4 L375.1,70.2 L377.0,68.9 L378.8,67.6 L380.6,66.3 L382.5,65.1 L384.3,63.8 L386.1,62.5 L388.0,61.3 L389.8,60.0 L391.7,58.7 L393.5,57.5 L395.3,56.2 L397.2,54.9 L399.0,53.6 L400.8,52.4 L402.7,51.1 L404.5,49.8 L406.4,48.6 L408.2,47.3 L410.0,46.0 L411.9,44.8 L413.7,43.5 L415.5,42.2 L417.4,40.9 L419.2,39.7 L421.1,38.4 L422.9,37.1 L424.7,35.9 M237.2,77.7 L239.1,78.9 L240.9,80.2 L242.7,81.4 L244.6,82.7 L246.4,83.9 L248.3,85.2 L250.1,86.4 L251.9,87.7 L253.8,89.0 L255.6,90.2 L257.5,91.5 L259.3,92.7 L261.1,94.0 L263.0,95.2 L264.8,96.5 L266.6,97.8 L268.5,99.0 L270.3,100.3 L272.2,101.5 L274.0,102.8 L275.8,104.0 L277.7,105.3 L279.5,106.5 L281.4,107.8 L283.2,109.1 L285.0,110.3 L286.9,111.6 L288.7,112.8 L290.6,114.1 L292.4,115.3 L294.2,116.6 M358.6,71.9 L360.5,70.6 L362.3,69.3 L364.1,68.1 L366.0,66.8 L367.8,65.5 L369.7,64.2 L371.5,63.0 L373.4,61.7 L375.2,60.4 L377.1,59.1 L378.9,57.9 L380.8,56.6 L382.6,55.3 L384.4,54.0 L386.3,52.8 L388.1,51.5 L390.0,50.2 L391.8,48.9 L393.7,47.6 L395.5,46.4 L397.4,45.1 L399.2,43.8 L401.1,42.5 L402.9,41.3 L404.7,40.0 L406.6,38.7 L408.4,37.4 L410.3,36.2 L412.1,34.9 L414.0,33.6 L415.8,32.3 M227.4,89.0 L229.3,90.2 L231.2,91.5 L233.0,92.7 L234.9,94.0 L236.8,95.3 L238.7,96.5 L240.6,97.8 L242.5,99.0 L244.4,100.3 L246.3,101.5 L248.2,102.8 L250.0,104.1 L251.9,105.3 L253.8,106.6 L255.7,107.8 L257.6,109.1 L259.5,110.4 L261.4,111.6 L263.3,112.9 L265.2,114.1 L267.0,115.4 L268.9,116.6 L270.8,117.9 L272.7,119.2 L274.6,120.4 M358.6,62.6 L360.5,61.3 L362.4,60.0 L364.3,58.7 L366.2,57.4 L368.1,56.1 L370.0,54.7 L371.9,53.4 L373.8,52.1 L375.7,50.8 L377.6,49.5 L379.5,48.2 L381.4,46.8 L383.3,45.5 L385.2,44.2 L387.1,42.9 L389.0,41.6 L390.9,40.3 L392.8,38.9 L394.7,37.6 L396.5,36.3 L398.4,35.0 L400.3,33.7 L402.2,32.4 L404.1,31.0 L406.0,29.7 M216.7,103.1 L218.5,104.3 L220.3,105.4 L222.1,106.6 L224.0,107.7 L225.8,108.9 L227.6,110.1 L229.4,111.2 L231.3,112.4 L233.1,113.5 L234.9,114.7 L236.7,115.8 L238.6,117.0 L240.4,118.2 L242.2,119.3 L244.1,120.5 L245.9,121.6 L247.7,122.8 L249.5,123.9 L251.4,125.1 L253.2,126.3 M358.7,54.5 L360.5,53.3 L362.3,52.0 L364.2,50.7 L366.0,49.4 L367.8,48.1 L369.7,46.8 L371.5,45.5 L373.3,44.2 L375.2,42.9 L377.0,41.7 L378.8,40.4 L380.7,39.1 L382.5,37.8 L384.3,36.5 L386.2,35.2 L388.0,33.9 L389.8,32.6 L391.7,31.3 L393.5,30.1 L395.3,28.8 M205.0,121.4 L207.0,122.5 L208.9,123.6 L210.8,124.7 L212.7,125.7 L214.6,126.8 L216.5,127.9 L218.5,128.9 L220.4,130.0 L222.3,131.1 L224.2,132.2 L226.1,133.2 L228.1,134.3 L230.0,135.4 M358.7,49.0 L360.6,47.6 L362.6,46.2 L364.5,44.8 L366.4,43.4 L368.3,42.0 L370.3,40.6 L372.2,39.2 L374.1,37.8 L376.0,36.4 L378.0,35.0 L379.9,33.6 L381.8,32.2 L383.7,30.8 M192.5,147.3 L194.3,147.9 L196.1,148.4 L197.9,149.0 L199.6,149.5 L201.4,150.1 L203.2,150.6 L205.0,151.2 M362.3,46.5 L364.1,45.0 L365.9,43.5 L367.7,42.1 L369.5,40.6 L371.3,39.1 M343.5,111.9 L345.4,110.4 L347.3,109.0 L349.1,107.7 L351.0,106.3 L352.9,105.0 L354.8,103.7 L356.6,102.4 L358.5,101.2 M358.5,101.2 L360.4,102.4 L362.3,103.7 L364.1,105.0 L366.0,106.4 L367.9,107.7 L369.8,109.1 L371.6,110.4 L373.5,111.9 M328.2,112.7 L330.1,111.1 L332.0,109.6 L333.9,108.0 L335.8,106.6 L337.7,105.1 L339.6,103.7 L341.5,102.3 L343.4,101.0 L345.3,99.6 L347.2,98.3 L349.1,97.0 L351.0,95.7 L352.9,94.6 L354.8,93.4 L356.7,92.3 L358.6,91.2 M358.6,91.2 L360.4,92.3 L362.3,93.4 L364.2,94.6 L366.1,95.8 L368.0,97.0 L369.9,98.3 L371.8,99.7 L373.7,101.0 L375.6,102.4 L377.5,103.8 L379.4,105.2 L381.3,106.6 L383.2,108.1 L385.1,109.6 L387.0,111.1 L388.8,112.7 M312.1,114.2 L313.9,112.5 L315.8,110.8 L317.7,109.2 L319.5,107.6 L321.4,106.0 L323.2,104.5 L325.1,103.0 L327.0,101.5 L328.8,100.1 L330.7,98.7 L332.5,97.3 L334.4,96.0 L336.3,94.7 L338.1,93.3 L340.0,92.1 L341.8,90.8 L343.7,89.6 L345.6,88.5 L347.4,87.4 L349.3,86.3 L351.1,85.3 L353.0,84.3 L354.9,83.3 L356.7,82.4 L358.6,81.6 M358.6,81.6 L360.4,82.5 L362.3,83.4 L364.1,84.3 L366.0,85.3 L367.8,86.4 L369.7,87.4 L371.6,88.6 L373.4,89.7 L375.3,90.9 L377.1,92.2 L379.0,93.5 L380.8,94.8 L382.7,96.1 L384.5,97.4 L386.4,98.8 L388.2,100.2 L390.1,101.6 L391.9,103.1 L393.8,104.6 L395.6,106.1 L397.5,107.7 L399.4,109.2 L401.2,110.8 L403.1,112.5 L404.9,114.2 M294.2,116.6 L296.1,114.8 L297.9,113.0 L299.8,111.2 L301.6,109.5 L303.4,107.7 L305.3,106.1 L307.1,104.4 L309.0,102.8 L310.8,101.2 L312.6,99.7 L314.5,98.2 L316.3,96.7 L318.1,95.2 L320.0,93.8 L321.8,92.4 L323.7,91.0 L325.5,89.7 L327.3,88.4 L329.2,87.1 L331.0,85.8 L332.9,84.6 L334.7,83.4 L336.5,82.3 L338.4,81.2 L340.2,80.1 L342.1,79.1 L343.9,78.1 L345.7,77.2 L347.6,76.3 L349.4,75.4 L351.3,74.6 L353.1,73.9 L354.9,73.2 L356.8,72.5 L358.6,71.9 M358.6,71.9 L360.4,72.5 L362.3,73.2 L364.1,73.9 L365.9,74.7 L367.8,75.5 L369.6,76.4 L371.4,77.3 L373.3,78.2 L375.1,79.2 L376.9,80.3 L378.8,81.3 L380.6,82.4 L382.4,83.6 L384.3,84.8 L386.1,86.0 L387.9,87.3 L389.8,88.6 L391.6,89.9 L393.4,91.2 L395.3,92.6 L397.1,94.0 L398.9,95.4 L400.8,96.8 L402.6,98.3 L404.4,99.8 L406.3,101.4 L408.1,102.9 L409.9,104.5 L411.8,106.2 L413.6,107.8 L415.4,109.5 L417.3,111.3 L419.1,113.0 L420.9,114.8 L422.8,116.6 M274.6,120.4 L276.5,118.3 L278.3,116.3 L280.2,114.3 L282.1,112.3 L283.9,110.4 L285.8,108.5 L287.7,106.7 L289.5,104.8 L291.4,103.0 L293.3,101.3 L295.1,99.6 L297.0,97.9 L298.9,96.2 L300.7,94.6 L302.6,93.0 L304.5,91.5 L306.4,89.9 L308.2,88.5 L310.1,87.0 L312.0,85.6 L313.8,84.2 L315.7,82.8 L317.6,81.5 L319.4,80.2 L321.3,78.9 L323.2,77.7 L325.0,76.5 L326.9,75.3 L328.8,74.2 L330.6,73.1 L332.5,72.1 L334.4,71.1 L336.2,70.2 L338.1,69.2 L340.0,68.4 L341.8,67.6 L343.7,66.8 L345.6,66.1 L347.4,65.4 L349.3,64.8 L351.2,64.3 L353.0,63.8 L354.9,63.3 L356.8,62.9 L358.6,62.6 M358.6,62.6 L360.5,63.0 L362.4,63.4 L364.2,63.8 L366.1,64.4 L367.9,64.9 L369.8,65.6 L371.7,66.2 L373.5,67.0 L375.4,67.7 L377.3,68.6 L379.1,69.4 L381.0,70.3 L382.8,71.3 L384.7,72.3 L386.6,73.3 L388.4,74.4 L390.3,75.5 L392.1,76.7 L394.0,77.9 L395.9,79.1 L397.7,80.4 L399.6,81.7 L401.4,83.1 L403.3,84.4 L405.2,85.8 L407.0,87.2 L408.9,88.7 L410.8,90.2 L412.6,91.7 L414.5,93.2 L416.3,94.8 L418.2,96.4 L420.1,98.1 L421.9,99.8 L423.8,101.5 L425.6,103.2 L427.5,105.0 L429.4,106.8 L431.2,108.7 L433.1,110.5 L435.0,112.4 L436.8,114.4 L438.7,116.4 L440.5,118.4 L442.4,120.4 M253.2,126.3 L255.0,123.9 L256.9,121.6 L258.7,119.4 L260.6,117.2 L262.4,115.0 L264.3,112.9 L266.1,110.8 L268.0,108.7 L269.8,106.7 L271.7,104.7 L273.5,102.8 L275.4,100.9 L277.2,99.1 L279.1,97.2 L280.9,95.4 L282.8,93.7 L284.6,92.0 L286.5,90.3 L288.3,88.6 L290.2,87.0 L292.1,85.5 L293.9,83.9 L295.8,82.4 L297.6,80.9 L299.5,79.5 L301.3,78.1 L303.2,76.7 L305.0,75.3 L306.9,74.0 L308.7,72.7 L310.6,71.4 L312.4,70.2 L314.3,69.0 L316.1,67.9 L318.0,66.8 L319.8,65.7 L321.7,64.7 L323.5,63.7 L325.4,62.7 L327.2,61.8 L329.1,61.0 L330.9,60.1 L332.8,59.4 L334.6,58.6 L336.5,58.0 L338.3,57.3 L340.2,56.8 L342.0,56.2 L343.9,55.8 L345.7,55.4 L347.6,55.0 L349.4,54.8 L351.3,54.6 L353.1,54.4 L355.0,54.4 L356.8,54.4 L358.7,54.5 M358.7,54.5 L360.5,54.5 L362.4,54.5 L364.2,54.6 L366.1,54.7 L367.9,55.0 L369.7,55.3 L371.6,55.6 L373.4,56.0 L375.3,56.5 L377.1,57.0 L379.0,57.6 L380.8,58.2 L382.7,58.9 L384.5,59.7 L386.3,60.4 L388.2,61.2 L390.0,62.1 L391.9,63.0 L393.7,64.0 L395.6,65.0 L397.4,66.0 L399.3,67.1 L401.1,68.2 L402.9,69.3 L404.8,70.5 L406.6,71.7 L408.5,73.0 L410.3,74.3 L412.2,75.6 L414.0,77.0 L415.9,78.3 L417.7,79.8 L419.5,81.2 L421.4,82.7 L423.2,84.2 L425.1,85.7 L426.9,87.3 L428.8,88.9 L430.6,90.6 L432.5,92.3 L434.3,94.0 L436.1,95.7 L438.0,97.5 L439.8,99.3 L441.7,101.2 L443.5,103.1 L445.4,105.0 L447.2,107.0 L449.1,109.0 L450.9,111.0 L452.7,113.1 L454.6,115.2 L456.4,117.3 L458.3,119.5 L460.1,121.7 L462.0,124.0 L463.8,126.3 M230.0,135.4 L231.8,132.6 L233.7,129.9 L235.6,127.2 L237.4,124.6 L239.3,122.0 L241.2,119.5 L243.0,117.0 L244.9,114.6 L246.8,112.3 L248.6,110.0 L250.5,107.7 L252.4,105.5 L254.2,103.4 L256.1,101.3 L258.0,99.2 L259.8,97.2 L261.7,95.2 L263.6,93.2 L265.4,91.3 L267.3,89.5 L269.2,87.6 L271.0,85.9 L272.9,84.1 L274.8,82.4 L276.6,80.7 L278.5,79.1 L280.4,77.5 L282.2,75.9 L284.1,74.4 L286.0,72.9 L287.8,71.4 L289.7,70.0 L291.5,68.6 L293.4,67.2 L295.3,65.9 L297.1,64.6 L299.0,63.3 L300.9,62.1 L302.7,60.9 L304.6,59.7 L306.5,58.6 L308.3,57.5 L310.2,56.5 L312.1,55.5 L313.9,54.5 L315.8,53.6 L317.7,52.7 L319.5,51.9 L321.4,51.1 L323.3,50.4 L325.1,49.7 L327.0,49.1 L328.9,48.5 L330.7,47.9 L332.6,47.5 L334.5,47.0 L336.3,46.7 L338.2,46.4 L340.1,46.2 L341.9,46.0 L343.8,45.9 L345.7,45.9 L347.5,46.0 L349.4,46.2 L351.3,46.5 L353.1,46.9 L355.0,47.5 L356.9,48.1 L358.7,49.0 M358.7,49.0 L360.6,48.2 L362.4,47.6 L364.3,47.2 L366.2,46.8 L368.0,46.5 L369.9,46.4 L371.7,46.3 L373.6,46.3 L375.5,46.4 L377.3,46.6 L379.2,46.8 L381.0,47.1 L382.9,47.5 L384.7,47.9 L386.6,48.4 L388.5,48.9 L390.3,49.5 L392.2,50.1 L394.0,50.8 L395.9,51.5 L397.8,52.3 L399.6,53.1 L401.5,54.0 L403.3,54.9 L405.2,55.9 L407.1,56.8 L408.9,57.9 L410.8,59.0 L412.6,60.1 L414.5,61.2 L416.4,62.4 L418.2,63.6 L420.1,64.9 L421.9,66.2 L423.8,67.6 L425.7,68.9 L427.5,70.3 L429.4,71.7 L431.2,73.2 L433.1,74.7 L435.0,76.3 L436.8,77.8 L438.7,79.4 L440.5,81.1 L442.4,82.8 L444.3,84.5 L446.1,86.2 L448.0,88.0 L449.8,89.9 L451.7,91.7 L453.5,93.7 L455.4,95.6 L457.3,97.6 L459.1,99.6 L461.0,101.7 L462.8,103.8 L464.7,106.0 L466.6,108.2 L468.4,110.4 L470.3,112.7 L472.1,115.0 L474.0,117.4 L475.9,119.9 L477.7,122.3 L479.6,124.9 L481.4,127.4 L483.3,130.0 L485.2,132.7 L487.0,135.4 M205.0,151.2 L206.8,147.5 L208.7,143.9 L210.5,140.5 L212.4,137.1 L214.3,133.9 L216.1,130.7 L218.0,127.7 L219.8,124.7 L221.7,121.8 L223.5,119.0 L225.4,116.3 L227.2,113.7 L229.1,111.1 L230.9,108.6 L232.8,106.1 L234.6,103.7 L236.5,101.4 L238.3,99.1 L240.2,96.9 L242.0,94.7 L243.9,92.6 L245.7,90.5 L247.6,88.4 L249.5,86.4 L251.3,84.5 L253.2,82.6 L255.0,80.7 L256.9,78.9 L258.7,77.1 L260.6,75.3 L262.4,73.6 L264.3,71.9 L266.1,70.3 L268.0,68.7 L269.8,67.1 L271.7,65.6 L273.5,64.1 L275.4,62.6 L277.2,61.2 L279.1,59.8 L280.9,58.4 L282.8,57.1 L284.7,55.8 L286.5,54.6 L288.4,53.3 L290.2,52.1 L292.1,51.0 L293.9,49.9 L295.8,48.8 L297.6,47.8 L299.5,46.8 L301.3,45.8 L303.2,44.9 L305.0,44.0 L306.9,43.2 L308.7,42.4 L310.6,41.7 L312.4,41.0 L314.3,40.3 L316.1,39.7 L318.0,39.2 L319.9,38.6 L321.7,38.2 L323.6,37.8 L325.4,37.5 L327.3,37.2 L329.1,37.0 L331.0,36.9 L332.8,36.8 L334.7,36.8 L336.5,36.9 L338.4,37.1 L340.2,37.4 L342.1,37.8 L343.9,38.3 L345.8,38.9 L347.6,39.7 L349.5,40.7 L351.3,41.9 L353.2,43.3 L355.1,44.9 L356.9,47.0 M360.6,47.2 L362.5,45.4 L364.3,43.8 L366.1,42.5 L368.0,41.4 L369.8,40.5 L371.7,39.7 L373.5,39.1 L375.4,38.6 L377.2,38.2 L379.1,37.9 L380.9,37.7 L382.8,37.6 L384.6,37.5 L386.5,37.6 L388.3,37.7 L390.1,37.9 L392.0,38.2 L393.8,38.5 L395.7,38.9 L397.5,39.3 L399.4,39.8 L401.2,40.3 L403.1,40.9 L404.9,41.5 L406.8,42.2 L408.6,43.0 L410.5,43.7 L412.3,44.5 L414.2,45.4 L416.0,46.3 L417.8,47.3 L419.7,48.2 L421.5,49.3 L423.4,50.3 L425.2,51.4 L427.1,52.6 L428.9,53.8 L430.8,55.0 L432.6,56.2 L434.5,57.5 L436.3,58.9 L438.2,60.2 L440.0,61.6 L441.8,63.0 L443.7,64.5 L445.5,66.0 L447.4,67.5 L449.2,69.1 L451.1,70.7 L452.9,72.4 L454.8,74.1 L456.6,75.8 L458.5,77.6 L460.3,79.4 L462.2,81.2 L464.0,83.1 L465.8,85.0 L467.7,87.0 L469.5,89.0 L471.4,91.1 L473.2,93.2 L475.1,95.3 L476.9,97.5 L478.8,99.8 L480.6,102.1 L482.5,104.5 L484.3,106.9 L486.2,109.3 L488.0,111.9 L489.9,114.5 L491.7,117.1 L493.5,119.8 L495.4,122.6 L497.2,125.5 L499.1,128.4 L500.9,131.4 L502.8,134.5 L504.6,137.7 L506.5,141.0 L508.3,144.3 L510.2,147.7 L512.0,151.2" fill="none" stroke="#0a3034" stroke-width="1.3" opacity="0.84" clip-path="url(#cv)"/>
<path d="M180.0,217.0 L182.5,187.0 L185.0,178.9 L187.4,173.2 L189.9,168.6 L192.4,164.8 L194.9,161.5 L197.4,158.6 L199.8,156.0 L202.3,153.6 L204.8,151.4 L207.3,149.3 L209.8,147.4 L212.2,145.6 L214.7,143.9 L217.2,142.3 L219.7,140.8 L222.1,139.4 L224.6,138.1 L227.1,136.8 L229.6,135.6 L232.1,134.4 L234.5,133.3 L237.0,132.2 L239.5,131.2 L242.0,130.2 L244.5,129.3 L246.9,128.4 L249.4,127.5 L251.9,126.7 L254.4,125.9 L256.9,125.1 L259.3,124.4 L261.8,123.7 L264.3,123.0 L266.8,122.3 L269.2,121.7 L271.7,121.1 L274.2,120.5 L276.7,119.9 L279.2,119.4 L281.6,118.9 L284.1,118.4 L286.6,117.9 L289.1,117.5 L291.6,117.0 L294.0,116.6 L296.5,116.2 L299.0,115.9 L301.5,115.5 L304.0,115.2 L306.4,114.8 L308.9,114.5 L311.4,114.2 L313.9,114.0 L316.4,113.7 L318.8,113.5 L321.3,113.2 L323.8,113.0 L326.3,112.8 L328.8,112.6 L331.2,112.5 L333.7,112.3 L336.2,112.2 L338.7,112.1 L341.1,111.9 L343.6,111.9 L346.1,111.8 L348.6,111.7 L351.1,111.7 L353.5,111.6 L356.0,111.6 L358.5,111.6 L361.0,111.6 L363.5,111.6 L365.9,111.7 L368.4,111.7 L370.9,111.8 L373.4,111.9 L375.9,111.9 L378.3,112.1 L380.8,112.2 L383.3,112.3 L385.8,112.5 L388.3,112.6 L390.7,112.8 L393.2,113.0 L395.7,113.2 L398.2,113.5 L400.6,113.7 L403.1,114.0 L405.6,114.2 L408.1,114.5 L410.6,114.8 L413.0,115.2 L415.5,115.5 L418.0,115.9 L420.5,116.2 L423.0,116.6 L425.4,117.0 L427.9,117.5 L430.4,117.9 L432.9,118.4 L435.4,118.9 L437.8,119.4 L440.3,119.9 L442.8,120.5 L445.3,121.1 L447.8,121.7 L450.2,122.3 L452.7,123.0 L455.2,123.7 L457.7,124.4 L460.1,125.1 L462.6,125.9 L465.1,126.7 L467.6,127.5 L470.1,128.4 L472.5,129.3 L475.0,130.2 L477.5,131.2 L480.0,132.2 L482.5,133.3 L484.9,134.4 L487.4,135.6 L489.9,136.8 L492.4,138.1 L494.9,139.4 L497.3,140.8 L499.8,142.3 L502.3,143.9 L504.8,145.6 L507.2,147.4 L509.7,149.3 L512.2,151.4 L514.7,153.6 L517.2,156.0 L519.6,158.6 L522.1,161.5 L524.6,164.8 L527.1,168.6 L529.6,173.2 L532.0,178.9 L534.5,187.0 L537.0,217.0 M358.8,48.9 L358.8,48.5 L358.7,48.2 L358.7,48.1 L358.7,48.0 L358.7,48.0 L358.7,48.2 L358.7,48.3 L358.7,48.6 L358.7,48.9 L358.7,49.3 L358.7,49.7 L358.7,50.2 L358.7,50.8 L358.7,51.4 L358.7,52.0 L358.7,52.7 L358.7,53.4 L358.7,54.1 L358.7,54.9 L358.7,55.8 L358.7,56.6 L358.7,57.5 L358.7,58.4 L358.7,59.4 L358.6,60.4 L358.6,61.4 L358.6,62.5 L358.6,63.5 L358.6,64.6 L358.6,65.8 L358.6,66.9 L358.6,68.1 L358.6,69.3 L358.6,70.5 L358.6,71.8 L358.6,73.1 L358.6,74.4 L358.6,75.7 L358.6,77.0 L358.6,78.4 L358.6,79.8 L358.6,81.2 L358.6,82.6 L358.6,84.1 L358.6,85.5 L358.6,87.0 L358.6,88.5 L358.6,90.0 L358.5,91.6 L358.5,93.2 L358.5,94.7 L358.5,96.3 L358.5,98.0 L358.5,99.6 L358.5,101.3 L358.5,102.9 L358.5,104.6 L358.5,106.3 L358.5,108.1 L358.5,109.8 L358.5,111.6 L358.5,113.4 L358.5,115.2 L358.5,117.0 L358.5,118.8 L358.5,120.7 L358.5,122.5 L358.5,124.4 L358.5,126.3 L358.5,128.2 L358.5,130.1 L358.5,132.0 L358.4,134.0 L358.4,135.9 L358.4,137.9 L358.4,139.9 L358.4,141.9 L358.4,143.9 L358.4,146.0 L358.4,148.0 L358.4,150.1 L358.4,152.2 L358.4,154.3 L358.4,156.4 L358.4,158.5 L358.4,160.7 L358.4,162.9 L358.4,165.0 L358.4,167.3 L358.4,169.5 L358.4,171.7 L358.4,174.0 L358.4,176.3 L358.4,178.6 L358.4,181.0 L358.4,183.3 L358.4,185.7 L358.3,188.1 L358.3,190.5 L358.3,193.0 L358.3,195.5 L358.3,198.0 L358.3,200.5 L358.3,203.1 L358.3,205.7 L358.3,208.4 L358.3,211.1 L358.3,213.8 L358.3,216.5 L358.3,219.3 L358.3,222.2 L358.3,225.1 L358.3,228.0 L358.3,231.0 L358.3,234.1 L358.3,237.2 L358.3,240.4 L358.3,243.7 L358.3,247.0 L358.3,250.5 L358.2,254.1 L358.2,257.8 L358.2,261.6 L358.2,265.6 L358.2,269.7 L358.2,274.2 L358.2,278.9 L358.2,283.9 L358.2,289.5 L358.2,295.8 L358.2,303.3 L358.2,313.2 L358.2,345.0 M180.0,217.0 L181.2,191.4 L182.5,182.7 L183.7,176.2 L185.0,170.7 L186.2,166.0 L187.4,161.7 L188.7,157.8 L189.9,154.2 L191.2,150.8 L192.4,147.6 L193.7,144.5 L194.9,141.6 L196.1,138.8 L197.4,136.1 L198.6,133.5 L199.9,131.0 L201.1,128.6 L202.3,126.3 L203.6,124.0 L204.8,121.8 L206.1,119.6 L207.3,117.5 L208.6,115.5 L209.8,113.5 L211.0,111.5 L212.3,109.6 L213.5,107.7 L214.8,105.9 L216.0,104.0 L217.2,102.3 L218.5,100.5 L219.7,98.8 L221.0,97.2 L222.2,95.5 L223.5,93.9 L224.7,92.3 L225.9,90.7 L227.2,89.2 L228.4,87.7 L229.7,86.2 L230.9,84.7 L232.1,83.3 L233.4,81.9 L234.6,80.5 L235.9,79.1 L237.1,77.8 L238.4,76.4 L239.6,75.1 L240.8,73.8 L242.1,72.6 L243.3,71.3 L244.6,70.1 L245.8,68.8 L247.0,67.7 L248.3,66.5 L249.5,65.3 L250.8,64.2 L252.0,63.0 L253.3,61.9 L254.5,60.8 L255.7,59.8 L257.0,58.7 L258.2,57.7 L259.5,56.6 L260.7,55.6 L261.9,54.6 L263.2,53.6 L264.4,52.7 L265.7,51.7 L266.9,50.8 L268.2,49.9 L269.4,49.0 L270.6,48.1 L271.9,47.3 L273.1,46.4 L274.4,45.6 L275.6,44.8 L276.8,44.0 L278.1,43.2 L279.3,42.4 L280.6,41.7 L281.8,40.9 L283.1,40.2 L284.3,39.5 L285.5,38.8 L286.8,38.1 L288.0,37.5 L289.3,36.9 L290.5,36.2 L291.8,35.7 L293.0,35.1 L294.2,34.5 L295.5,34.0 L296.7,33.4 L298.0,32.9 L299.2,32.5 L300.4,32.0 L301.7,31.5 L302.9,31.1 L304.2,30.7 L305.4,30.3 L306.6,30.0 L307.9,29.6 L309.1,29.3 L310.4,29.0 L311.6,28.8 L312.9,28.5 L314.1,28.3 L315.3,28.1 L316.6,28.0 L317.8,27.8 L319.1,27.7 L320.3,27.6 L321.5,27.6 L322.8,27.6 L324.0,27.6 L325.3,27.7 L326.5,27.8 L327.8,27.9 L329.0,28.1 L330.2,28.4 L331.5,28.6 L332.7,29.0 L334.0,29.3 L335.2,29.8 L336.4,30.3 L337.7,30.9 L338.9,31.5 L340.2,32.2 L341.4,33.0 L342.7,33.9 L343.9,34.9 L345.1,36.1 L346.4,37.4 L347.6,38.8 L348.9,40.4 M371.2,39.3 L372.4,37.9 L373.6,36.8 L374.9,35.7 L376.1,34.8 L377.4,33.9 L378.6,33.2 L379.8,32.5 L381.1,31.9 L382.3,31.3 L383.5,30.8 L384.8,30.4 L386.0,30.1 L387.3,29.7 L388.5,29.5 L389.7,29.3 L391.0,29.1 L392.2,28.9 L393.5,28.8 L394.7,28.8 L395.9,28.8 L397.2,28.8 L398.4,28.8 L399.6,28.9 L400.9,29.0 L402.1,29.1 L403.4,29.3 L404.6,29.5 L405.8,29.7 L407.1,29.9 L408.3,30.2 L409.5,30.5 L410.8,30.8 L412.0,31.1 L413.2,31.5 L414.5,31.9 L415.7,32.3 L417.0,32.7 L418.2,33.2 L419.4,33.6 L420.7,34.1 L421.9,34.6 L423.1,35.2 L424.4,35.7 L425.6,36.3 L426.9,36.9 L428.1,37.5 L429.3,38.1 L430.6,38.7 L431.8,39.4 L433.0,40.1 L434.3,40.7 L435.5,41.5 L436.8,42.2 L438.0,42.9 L439.2,43.7 L440.5,44.5 L441.7,45.3 L443.0,46.1 L444.2,46.9 L445.4,47.8 L446.7,48.6 L447.9,49.5 L449.1,50.4 L450.4,51.3 L451.6,52.2 L452.9,53.2 L454.1,54.2 L455.3,55.1 L456.6,56.1 L457.8,57.1 L459.0,58.2 L460.3,59.2 L461.5,60.3 L462.8,61.4 L464.0,62.5 L465.2,63.6 L466.5,64.7 L467.7,65.9 L468.9,67.1 L470.2,68.3 L471.4,69.5 L472.6,70.7 L473.9,72.0 L475.1,73.2 L476.4,74.5 L477.6,75.8 L478.8,77.2 L480.1,78.5 L481.3,79.9 L482.5,81.3 L483.8,82.7 L485.0,84.1 L486.3,85.6 L487.5,87.1 L488.7,88.6 L490.0,90.1 L491.2,91.7 L492.5,93.3 L493.7,94.9 L494.9,96.5 L496.2,98.2 L497.4,99.9 L498.6,101.7 L499.9,103.4 L501.1,105.2 L502.4,107.1 L503.6,108.9 L504.8,110.9 L506.1,112.8 L507.3,114.8 L508.5,116.9 L509.8,118.9 L511.0,121.1 L512.2,123.3 L513.5,125.5 L514.7,127.9 L516.0,130.2 L517.2,132.7 L518.4,135.2 L519.7,137.9 L520.9,140.6 L522.1,143.4 L523.4,146.4 L524.6,149.5 L525.9,152.7 L527.1,156.2 L528.3,159.8 L529.6,163.8 L530.8,168.0 L532.0,172.8 L533.3,178.2 L534.5,184.7 L535.8,193.2 L537.0,217.0" fill="none" stroke="#0a3034" stroke-width="1.4" opacity="0.86"/>
<path d="M224.6,92.2 L213.4,107.6 L205.9,119.6 L198.5,133.5 L191.0,150.7 L187.3,161.7 L183.6,176.1 L179.9,217.1 L180.1,217.0 L183.9,187.4 L187.6,177.2 L191.3,170.4 L195.0,165.3 L198.7,161.4 L202.4,158.4 L206.1,156.0 L213.5,152.9 L220.9,151.5 L228.3,151.4 L235.7,152.4 L243.1,154.4 L250.5,157.3 L257.9,161.0 L269.0,168.1 L280.1,177.0 L287.6,183.9 L295.0,191.7 L302.4,200.3 L309.8,210.0 L317.2,220.8 L324.7,232.9 L332.1,246.6 L339.5,262.7 L343.2,271.9 L346.9,282.3 L350.6,294.5 L354.3,310.1 L358.1,345.1 L362.1,310.9 L365.8,295.7 L369.5,283.8 L373.2,273.6 L377.0,264.5 L384.4,248.8 L391.9,235.2 L399.3,223.3 L406.7,212.7 L414.2,203.1 L421.6,194.6 L429.1,186.9 L436.5,180.0 L447.7,171.1 L458.8,164.0 L466.3,160.2 L473.7,157.3 L481.2,155.2 L488.6,154.1 L496.0,154.0 L503.4,155.3 L510.9,158.2 L514.6,160.4 L518.3,163.2 L522.0,167.0 L525.7,171.8 L529.4,178.4 L533.1,188.3 L536.9,217.0 L537.1,217.1 L533.4,178.2 L529.7,163.7 L526.0,152.7 L518.6,135.2 L514.9,127.8 L507.4,114.7 L500.0,103.3 L488.9,88.5 L477.7,75.7 L466.6,64.6 L455.4,55.0 L444.3,46.8 L433.1,39.9 L422.0,34.5 L410.8,30.7 L403.4,29.1 L395.9,28.6 L388.5,29.3 L381.0,31.7 L377.3,33.8 L358.7,47.8 L344.0,34.8 L340.3,32.1 L336.5,30.1 L332.8,28.8 L329.0,28.0 L321.5,27.5 L314.1,28.2 L306.6,29.8 L299.1,32.3 L288.0,37.4 L276.8,43.8 L265.6,51.6 L254.4,60.7 L243.2,71.2 L232.0,83.2 L224.6,92.2Z" fill="none" stroke="#0a3034" stroke-width="0.9" opacity="0.7"/>
<path d="M219.2,366.0 L219.2,363.0 L219.2,360.0 L219.2,356.9 L219.2,353.9 L219.2,350.9 L219.2,347.9 L219.2,344.8 L219.2,341.8 L219.2,338.8 L219.2,335.8 L219.2,332.8 L219.2,329.7 L219.2,326.7 L219.2,323.7 L219.2,320.7 L219.2,317.6 L219.2,314.6 L219.2,311.6 L219.2,308.6 L219.2,305.6 L219.2,302.5 L219.2,299.5 L219.2,296.5 L219.2,293.5 L219.2,290.4 L219.2,287.4 L219.2,284.4 L219.2,281.4 L219.2,278.3 L219.2,275.3 L219.2,272.3 L219.2,269.3 L219.2,266.3 L219.2,263.2 L219.2,260.2 L219.2,257.2 L219.2,254.2 L219.2,251.1 L219.2,248.1 L219.2,245.1 L219.2,242.9 L219.3,240.7 L219.4,238.6 L219.6,236.5 L219.8,234.5 L220.0,232.5 L220.3,230.6 L220.7,228.7 L221.1,226.8 L221.5,225.0 L222.0,223.2 L222.5,221.5 L223.1,219.9 L223.7,218.3 L224.4,216.8 L225.1,215.3 L225.8,213.9 L226.6,212.6 L227.4,211.3 L228.3,210.0 L229.2,208.9 L230.1,207.8 L231.1,206.8 L232.1,205.8 L233.1,205.0 L234.2,204.1 L235.3,203.4 L236.5,202.7 L237.7,202.1 L238.9,201.6 L240.1,201.2 L241.4,200.8 L242.6,200.5 L244.0,200.3 L245.3,200.1 L246.7,200.0 L248.0,200.0 L249.4,200.1 L250.9,200.3 L252.3,200.5 L253.8,200.8 L255.2,201.1 L256.7,201.6 L258.2,202.1 L259.7,202.7 L261.3,203.3 L262.8,204.1 L264.3,204.9 L265.9,205.8 L267.4,206.7 L269.0,207.7 L270.5,208.8 L272.0,209.9 L273.6,211.2 L275.1,212.4 L276.7,213.8 L278.2,215.2 L279.7,216.7 L281.3,218.2 L282.8,219.8 L284.3,221.4 L285.8,223.1 L287.2,224.8 L288.7,226.6 L290.1,228.5 L291.6,230.4 L293.0,232.3 L294.3,234.3 L295.7,236.4 L297.0,238.4 L298.4,240.6 L299.6,242.7 L300.9,244.9 L302.1,247.1 L303.3,249.4 L304.5,251.7 L305.7,254.0 L306.8,256.3 L307.9,258.7 L308.9,261.1 L309.9,263.5 L310.9,265.9 L311.8,268.3 L312.7,270.8 L313.6,273.2 L314.4,275.7 L315.2,278.2 L315.9,280.7 L316.6,283.1 L317.3,285.6 L317.9,288.1 L318.5,290.5 L319.0,293.0 L319.5,295.5 L319.9,297.9 L320.3,300.3 L320.7,302.7 L321.0,305.1 L321.2,307.5 L321.4,309.8 L321.6,312.1 L321.7,314.4 L321.8,316.7 L321.8,318.9 L321.8,322.0 L321.8,325.0 L321.8,328.1 L321.8,331.2 L321.8,334.2 L321.8,337.3 L321.8,340.4 L321.8,343.4 L321.8,346.5 L321.8,349.6 L321.8,352.6 L321.8,355.7 L321.8,358.8 L321.8,361.8 L321.8,364.9 L321.8,368.0 L321.8,371.0 L321.8,374.1 L321.8,377.2 L321.8,380.2 L321.8,383.3 L321.8,386.4 L321.8,389.5 L321.8,392.5 L321.8,395.6 L321.8,398.7 L321.8,401.7 L321.8,404.8 L321.8,407.9 L321.8,410.9 L321.8,414.0 L321.8,417.1 L321.8,420.1 L321.8,423.2 L321.8,426.3 L321.8,429.3 L321.8,432.4 L321.8,435.5 L321.8,438.5 L321.8,441.6 L321.8,470.0 L219.2,470.0Z" fill="#fff"/>
<clipPath id="c4"><path d="M305.7,254.0 L304.5,251.7 L303.3,249.4 L302.1,247.1 L300.9,244.9 L299.6,242.7 L298.4,240.6 L297.0,238.4 L295.7,236.4 L294.3,234.3 L293.0,232.3 L291.6,230.4 L290.1,228.5 L288.7,226.6 L287.2,224.8 L285.8,223.1 L284.3,221.4 L282.8,219.8 L282.0,219.0 L253.5,238.0 L253.5,200.7 L252.3,200.5 L250.9,200.3 L249.4,200.1 L248.0,200.0 L246.7,200.0 L245.3,200.1 L244.0,200.3 L242.6,200.5 L241.4,200.8 L240.1,201.2 L238.9,201.6 L237.7,202.1 L236.5,202.7 L235.3,203.4 L234.2,204.1 L233.1,205.0 L232.1,205.8 L231.1,206.8 L230.1,207.8 L229.2,208.9 L228.3,210.0 L227.4,211.3 L226.6,212.6 L225.8,213.9 L225.1,215.3 L224.4,216.8 L223.7,218.3 L223.1,219.9 L222.5,221.5 L222.0,223.2 L221.5,225.0 L221.1,226.8 L220.7,228.7 L220.3,230.6 L220.0,232.5 L219.8,234.5 L219.6,236.5 L219.4,238.6 L219.3,240.7 L219.2,242.9 L219.2,245.1 L219.2,248.1 L219.2,251.1 L219.2,254.2 L219.2,257.2 L219.2,260.2 L219.2,263.2 L219.2,266.3 L219.2,269.3 L219.2,272.3 L219.2,275.3 L219.2,278.3 L219.2,281.4 L219.2,284.4 L219.2,287.4 L219.2,290.4 L219.2,293.5 L219.2,296.5 L219.2,299.5 L219.2,302.5 L219.2,305.6 L219.2,308.6 L219.2,311.6 L219.2,314.6 L219.2,315.7 L306.8,256.5 L306.8,256.3 L305.7,254.0Z"/></clipPath>
<path d="M305.7,254.0 L304.5,251.7 L303.3,249.4 L302.1,247.1 L300.9,244.9 L299.6,242.7 L298.4,240.6 L297.0,238.4 L295.7,236.4 L294.3,234.3 L293.0,232.3 L291.6,230.4 L290.1,228.5 L288.7,226.6 L287.2,224.8 L285.8,223.1 L284.3,221.4 L282.8,219.8 L282.0,219.0 L253.5,238.0 L253.5,200.7 L252.3,200.5 L250.9,200.3 L249.4,200.1 L248.0,200.0 L246.7,200.0 L245.3,200.1 L244.0,200.3 L242.6,200.5 L241.4,200.8 L240.1,201.2 L238.9,201.6 L237.7,202.1 L236.5,202.7 L235.3,203.4 L234.2,204.1 L233.1,205.0 L232.1,205.8 L231.1,206.8 L230.1,207.8 L229.2,208.9 L228.3,210.0 L227.4,211.3 L226.6,212.6 L225.8,213.9 L225.1,215.3 L224.4,216.8 L223.7,218.3 L223.1,219.9 L222.5,221.5 L222.0,223.2 L221.5,225.0 L221.1,226.8 L220.7,228.7 L220.3,230.6 L220.0,232.5 L219.8,234.5 L219.6,236.5 L219.4,238.6 L219.3,240.7 L219.2,242.9 L219.2,245.1 L219.2,248.1 L219.2,251.1 L219.2,254.2 L219.2,257.2 L219.2,260.2 L219.2,263.2 L219.2,266.3 L219.2,269.3 L219.2,272.3 L219.2,275.3 L219.2,278.3 L219.2,281.4 L219.2,284.4 L219.2,287.4 L219.2,290.4 L219.2,293.5 L219.2,296.5 L219.2,299.5 L219.2,302.5 L219.2,305.6 L219.2,308.6 L219.2,311.6 L219.2,314.6 L219.2,315.7 L306.8,256.5 L306.8,256.3 L305.7,254.0Z" fill="#1cfedb"/>
<path d="M302.3,180 L302.3,340 M289.6,180 L289.6,340 M276.9,180 L276.9,340 M264.2,180 L264.2,340 M251.5,180 L251.5,340 M238.8,180 L238.8,340 M226.1,180 L226.1,340 M213.4,180 L213.4,340 M200,303.9 L330,240.9 M200,291.6 L330,228.6 M200,279.3 L330,216.3 M200,267.0 L330,204.0 M200,254.7 L330,191.7 M200,242.4 L330,179.4 M200,230.1 L330,167.1 M200,217.8 L330,154.8 M200,205.5 L330,142.5 M200,193.2 L330,130.2 M200,180.9 L330,117.9 M200,168.6 L330,105.6 M200,156.3 L330,93.3 M200,144.0 L330,81.0" fill="none" stroke="#0a3034" stroke-width="1.3" opacity="0.84" clip-path="url(#c4)"/>
<path d="M305.7,254.0 L304.5,251.7 L303.3,249.4 L302.1,247.1 L300.9,244.9 L299.6,242.7 L298.4,240.6 L297.0,238.4 L295.7,236.4 L294.3,234.3 L293.0,232.3 L291.6,230.4 L290.1,228.5 L288.7,226.6 L287.2,224.8 L285.8,223.1 L284.3,221.4 L282.8,219.8 L282.0,219.0 L253.5,238.0 L253.5,200.7 L252.3,200.5 L250.9,200.3 L249.4,200.1 L248.0,200.0 L246.7,200.0 L245.3,200.1 L244.0,200.3 L242.6,200.5 L241.4,200.8 L240.1,201.2 L238.9,201.6 L237.7,202.1 L236.5,202.7 L235.3,203.4 L234.2,204.1 L233.1,205.0 L232.1,205.8 L231.1,206.8 L230.1,207.8 L229.2,208.9 L228.3,210.0 L227.4,211.3 L226.6,212.6 L225.8,213.9 L225.1,215.3 L224.4,216.8 L223.7,218.3 L223.1,219.9 L222.5,221.5 L222.0,223.2 L221.5,225.0 L221.1,226.8 L220.7,228.7 L220.3,230.6 L220.0,232.5 L219.8,234.5 L219.6,236.5 L219.4,238.6 L219.3,240.7 L219.2,242.9 L219.2,245.1 L219.2,248.1 L219.2,251.1 L219.2,254.2 L219.2,257.2 L219.2,260.2 L219.2,263.2 L219.2,266.3 L219.2,269.3 L219.2,272.3 L219.2,275.3 L219.2,278.3 L219.2,281.4 L219.2,284.4 L219.2,287.4 L219.2,290.4 L219.2,293.5 L219.2,296.5 L219.2,299.5 L219.2,302.5 L219.2,305.6 L219.2,308.6 L219.2,311.6 L219.2,314.6 L219.2,315.7 L306.8,256.5 L306.8,256.3 L305.7,254.0Z" fill="none" stroke="#0a3034" stroke-width="0.9" opacity="0.8"/>
<path d="M178.6,341.3 L178.7,338.2 L178.7,335.1 L178.8,332.0 L178.8,328.9 L178.8,325.8 L178.9,322.7 L178.9,319.5 L179.0,316.4 L179.0,313.3 L179.1,310.2 L179.2,307.1 L179.2,304.0 L179.2,300.9 L179.3,297.8 L179.3,294.7 L179.4,291.6 L179.4,288.5 L179.5,285.4 L179.5,282.3 L179.6,279.1 L179.7,276.0 L179.7,272.9 L179.8,269.8 L179.8,266.7 L179.8,263.6 L179.9,260.5 L179.9,257.4 L180.0,254.3 L180.0,251.2 L180.1,248.1 L180.2,245.0 L180.2,241.9 L180.2,238.8 L180.3,235.6 L180.3,232.5 L180.4,229.4 L180.4,226.3 L180.5,223.2 L180.5,220.1 L180.6,217.0 L180.0,213.6 L180.2,210.3 L180.4,207.0 L180.6,203.8 L181.0,200.7 L181.5,197.7 L182.0,194.7 L182.6,191.8 L183.3,189.0 L184.0,186.3 L184.9,183.6 L185.8,181.1 L186.8,178.6 L187.8,176.3 L189.0,174.0 L190.2,171.8 L191.5,169.7 L192.8,167.8 L194.3,165.9 L195.8,164.1 L197.3,162.5 L199.0,160.9 L200.7,159.5 L202.4,158.2 L204.2,156.9 L206.1,155.8 L208.0,154.9 L210.0,154.0 L212.1,153.2 L214.2,152.6 L216.3,152.1 L218.5,151.6 L220.7,151.4 L223.0,151.2 L225.3,151.1 L227.7,151.2 L230.1,151.4 L232.5,151.7 L235.0,152.1 L237.5,152.6 L240.0,153.3 L242.6,154.1 L245.2,155.0 L247.8,156.0 L250.4,157.1 L253.0,158.3 L255.7,159.7 L258.4,161.1 L261.0,162.7 L263.7,164.3 L266.4,166.1 L269.1,168.0 L271.8,170.0 L274.5,172.1 L277.2,174.3 L279.8,176.5 L282.5,178.9 L285.2,181.4 L287.8,183.9 L290.4,186.6 L293.0,189.3 L295.6,192.2 L298.2,195.1 L300.7,198.0 L303.2,201.1 L305.7,204.2 L308.1,207.4 L310.5,210.7 L312.9,214.0 L315.2,217.4 L317.5,220.9 L319.7,224.3 L322.0,227.7 L324.4,231.1 L326.8,234.4 L329.2,237.8 L331.7,241.0 L334.2,244.3 L336.7,247.6 L339.2,250.8 L341.7,254.1 L344.1,257.5 L346.4,260.9 L348.5,264.4 L350.4,268.0 L352.2,271.7 L353.7,275.6 L354.9,279.5 L355.9,283.5 L356.7,287.5 L357.3,291.6 L357.8,295.7 L358.0,299.8 L358.2,303.9 L358.2,308.0 L358.2,312.1 L358.2,316.2 L358.2,320.3 L358.2,324.4 L358.2,328.5 L358.2,332.7 L358.2,336.8 L358.2,340.9 L358.2,345.0 L358.2,348.1 L358.2,351.1 L358.2,354.2 L358.2,357.3 L358.2,360.3 L358.2,363.4 L358.2,366.5 L358.2,369.5 L358.2,372.6 L358.2,375.6 L358.2,378.7 L358.2,381.8 L358.2,384.8 L358.2,387.9 L358.2,391.0 L358.2,394.0 L358.2,397.1 L358.2,400.2 L358.2,403.2 L358.2,406.3 L358.2,409.4 L358.2,412.4 L358.2,415.5 L358.2,418.6 L358.2,421.6 L358.2,424.7 L358.2,427.8 L358.2,430.8 L358.2,433.9 L358.2,437.0 L358.2,440.0 L358.2,443.1 L358.2,446.1 L358.2,449.2 L358.2,452.3 L358.2,455.3 L358.2,458.4 L358.2,461.5 L358.2,464.5 L358.2,467.6 L321.8,441.6 L321.8,438.5 L321.8,435.5 L321.8,432.4 L321.8,429.3 L321.8,426.3 L321.8,423.2 L321.8,420.1 L321.8,417.1 L321.8,414.0 L321.8,410.9 L321.8,407.9 L321.8,404.8 L321.8,401.7 L321.8,398.7 L321.8,395.6 L321.8,392.5 L321.8,389.5 L321.8,386.4 L321.8,383.3 L321.8,380.2 L321.8,377.2 L321.8,374.1 L321.8,371.0 L321.8,368.0 L321.8,364.9 L321.8,361.8 L321.8,358.8 L321.8,355.7 L321.8,352.6 L321.8,349.6 L321.8,346.5 L321.8,343.4 L321.8,340.4 L321.8,337.3 L321.8,334.2 L321.8,331.2 L321.8,328.1 L321.8,325.0 L321.8,322.0 L321.8,318.9 L321.8,316.7 L321.7,314.4 L321.6,312.1 L321.4,309.8 L321.2,307.5 L321.0,305.1 L320.7,302.7 L320.3,300.3 L319.9,297.9 L319.5,295.5 L319.0,293.0 L318.5,290.5 L317.9,288.1 L317.3,285.6 L316.6,283.1 L315.9,280.7 L315.2,278.2 L314.4,275.7 L313.6,273.2 L312.7,270.8 L311.8,268.3 L310.9,265.9 L309.9,263.5 L308.9,261.1 L307.9,258.7 L306.8,256.3 L305.7,254.0 L304.5,251.7 L303.3,249.4 L302.1,247.1 L300.9,244.9 L299.6,242.7 L298.4,240.6 L297.0,238.4 L295.7,236.4 L294.3,234.3 L293.0,232.3 L291.6,230.4 L290.1,228.5 L288.7,226.6 L287.2,224.8 L285.8,223.1 L284.3,221.4 L282.8,219.8 L281.3,218.2 L279.7,216.7 L278.2,215.2 L276.7,213.8 L275.1,212.4 L273.6,211.2 L272.0,209.9 L270.5,208.8 L269.0,207.7 L267.4,206.7 L265.9,205.8 L264.3,204.9 L262.8,204.1 L261.3,203.3 L259.7,202.7 L258.2,202.1 L256.7,201.6 L255.2,201.1 L253.8,200.8 L252.3,200.5 L250.9,200.3 L249.4,200.1 L248.0,200.0 L246.7,200.0 L245.3,200.1 L244.0,200.3 L242.6,200.5 L241.4,200.8 L240.1,201.2 L238.9,201.6 L237.7,202.1 L236.5,202.7 L235.3,203.4 L234.2,204.1 L233.1,205.0 L232.1,205.8 L231.1,206.8 L230.1,207.8 L229.2,208.9 L228.3,210.0 L227.4,211.3 L226.6,212.6 L225.8,213.9 L225.1,215.3 L224.4,216.8 L223.7,218.3 L223.1,219.9 L222.5,221.5 L222.0,223.2 L221.5,225.0 L221.1,226.8 L220.7,228.7 L220.3,230.6 L220.0,232.5 L219.8,234.5 L219.6,236.5 L219.4,238.6 L219.3,240.7 L219.2,242.9 L219.2,245.1 L219.2,248.1 L219.2,251.1 L219.2,254.2 L219.2,257.2 L219.2,260.2 L219.2,263.2 L219.2,266.3 L219.2,269.3 L219.2,272.3 L219.2,275.3 L219.2,278.3 L219.2,281.4 L219.2,284.4 L219.2,287.4 L219.2,290.4 L219.2,293.5 L219.2,296.5 L219.2,299.5 L219.2,302.5 L219.2,305.6 L219.2,308.6 L219.2,311.6 L219.2,314.6 L219.2,317.6 L219.2,320.7 L219.2,323.7 L219.2,326.7 L219.2,329.7 L219.2,332.8 L219.2,335.8 L219.2,338.8 L219.2,341.8 L219.2,344.8 L219.2,347.9 L219.2,350.9 L219.2,353.9 L219.2,356.9 L219.2,360.0 L219.2,363.0 L219.2,366.0Z" fill="#1cfedb"/>
<clipPath id="c1"><path d="M178.6,341.3 L178.7,338.2 L178.7,335.1 L178.8,332.0 L178.8,328.9 L178.8,325.8 L178.9,322.7 L178.9,319.5 L179.0,316.4 L179.0,313.3 L179.1,310.2 L179.2,307.1 L179.2,304.0 L179.2,300.9 L179.3,297.8 L179.3,294.7 L179.4,291.6 L179.4,288.5 L179.5,285.4 L179.5,282.3 L179.6,279.1 L179.7,276.0 L179.7,272.9 L179.8,269.8 L179.8,266.7 L179.8,263.6 L179.9,260.5 L179.9,257.4 L180.0,254.3 L180.0,251.2 L180.1,248.1 L180.2,245.0 L180.2,241.9 L180.2,238.8 L180.3,235.6 L180.3,232.5 L180.4,229.4 L180.4,226.3 L180.5,223.2 L180.5,220.1 L180.6,217.0 L180.0,213.6 L180.2,210.3 L180.4,207.0 L180.6,203.8 L181.0,200.7 L181.5,197.7 L182.0,194.7 L182.6,191.8 L183.3,189.0 L184.0,186.3 L184.9,183.6 L185.8,181.1 L186.8,178.6 L187.8,176.3 L189.0,174.0 L190.2,171.8 L191.5,169.7 L192.8,167.8 L194.3,165.9 L195.8,164.1 L197.3,162.5 L199.0,160.9 L200.7,159.5 L202.4,158.2 L204.2,156.9 L206.1,155.8 L208.0,154.9 L210.0,154.0 L212.1,153.2 L214.2,152.6 L216.3,152.1 L218.5,151.6 L220.7,151.4 L223.0,151.2 L225.3,151.1 L227.7,151.2 L230.1,151.4 L232.5,151.7 L235.0,152.1 L237.5,152.6 L240.0,153.3 L242.6,154.1 L245.2,155.0 L247.8,156.0 L250.4,157.1 L253.0,158.3 L255.7,159.7 L258.4,161.1 L261.0,162.7 L263.7,164.3 L266.4,166.1 L269.1,168.0 L271.8,170.0 L274.5,172.1 L277.2,174.3 L279.8,176.5 L282.5,178.9 L285.2,181.4 L287.8,183.9 L290.4,186.6 L293.0,189.3 L295.6,192.2 L298.2,195.1 L300.7,198.0 L303.2,201.1 L305.7,204.2 L308.1,207.4 L310.5,210.7 L312.9,214.0 L315.2,217.4 L317.5,220.9 L319.7,224.3 L322.0,227.7 L324.4,231.1 L326.8,234.4 L329.2,237.8 L331.7,241.0 L334.2,244.3 L336.7,247.6 L339.2,250.8 L341.7,254.1 L344.1,257.5 L346.4,260.9 L348.5,264.4 L350.4,268.0 L352.2,271.7 L353.7,275.6 L354.9,279.5 L355.9,283.5 L356.7,287.5 L357.3,291.6 L357.8,295.7 L358.0,299.8 L358.2,303.9 L358.2,308.0 L358.2,312.1 L358.2,316.2 L358.2,320.3 L358.2,324.4 L358.2,328.5 L358.2,332.7 L358.2,336.8 L358.2,340.9 L358.2,345.0 L358.2,348.1 L358.2,351.1 L358.2,354.2 L358.2,357.3 L358.2,360.3 L358.2,363.4 L358.2,366.5 L358.2,369.5 L358.2,372.6 L358.2,375.6 L358.2,378.7 L358.2,381.8 L358.2,384.8 L358.2,387.9 L358.2,391.0 L358.2,394.0 L358.2,397.1 L358.2,400.2 L358.2,403.2 L358.2,406.3 L358.2,409.4 L358.2,412.4 L358.2,415.5 L358.2,418.6 L358.2,421.6 L358.2,424.7 L358.2,427.8 L358.2,430.8 L358.2,433.9 L358.2,437.0 L358.2,440.0 L358.2,443.1 L358.2,446.1 L358.2,449.2 L358.2,452.3 L358.2,455.3 L358.2,458.4 L358.2,461.5 L358.2,464.5 L358.2,467.6 L321.8,441.6 L321.8,438.5 L321.8,435.5 L321.8,432.4 L321.8,429.3 L321.8,426.3 L321.8,423.2 L321.8,420.1 L321.8,417.1 L321.8,414.0 L321.8,410.9 L321.8,407.9 L321.8,404.8 L321.8,401.7 L321.8,398.7 L321.8,395.6 L321.8,392.5 L321.8,389.5 L321.8,386.4 L321.8,383.3 L321.8,380.2 L321.8,377.2 L321.8,374.1 L321.8,371.0 L321.8,368.0 L321.8,364.9 L321.8,361.8 L321.8,358.8 L321.8,355.7 L321.8,352.6 L321.8,349.6 L321.8,346.5 L321.8,343.4 L321.8,340.4 L321.8,337.3 L321.8,334.2 L321.8,331.2 L321.8,328.1 L321.8,325.0 L321.8,322.0 L321.8,318.9 L321.8,316.7 L321.7,314.4 L321.6,312.1 L321.4,309.8 L321.2,307.5 L321.0,305.1 L320.7,302.7 L320.3,300.3 L319.9,297.9 L319.5,295.5 L319.0,293.0 L318.5,290.5 L317.9,288.1 L317.3,285.6 L316.6,283.1 L315.9,280.7 L315.2,278.2 L314.4,275.7 L313.6,273.2 L312.7,270.8 L311.8,268.3 L310.9,265.9 L309.9,263.5 L308.9,261.1 L307.9,258.7 L306.8,256.3 L305.7,254.0 L304.5,251.7 L303.3,249.4 L302.1,247.1 L300.9,244.9 L299.6,242.7 L298.4,240.6 L297.0,238.4 L295.7,236.4 L294.3,234.3 L293.0,232.3 L291.6,230.4 L290.1,228.5 L288.7,226.6 L287.2,224.8 L285.8,223.1 L284.3,221.4 L282.8,219.8 L281.3,218.2 L279.7,216.7 L278.2,215.2 L276.7,213.8 L275.1,212.4 L273.6,211.2 L272.0,209.9 L270.5,208.8 L269.0,207.7 L267.4,206.7 L265.9,205.8 L264.3,204.9 L262.8,204.1 L261.3,203.3 L259.7,202.7 L258.2,202.1 L256.7,201.6 L255.2,201.1 L253.8,200.8 L252.3,200.5 L250.9,200.3 L249.4,200.1 L248.0,200.0 L246.7,200.0 L245.3,200.1 L244.0,200.3 L242.6,200.5 L241.4,200.8 L240.1,201.2 L238.9,201.6 L237.7,202.1 L236.5,202.7 L235.3,203.4 L234.2,204.1 L233.1,205.0 L232.1,205.8 L231.1,206.8 L230.1,207.8 L229.2,208.9 L228.3,210.0 L227.4,211.3 L226.6,212.6 L225.8,213.9 L225.1,215.3 L224.4,216.8 L223.7,218.3 L223.1,219.9 L222.5,221.5 L222.0,223.2 L221.5,225.0 L221.1,226.8 L220.7,228.7 L220.3,230.6 L220.0,232.5 L219.8,234.5 L219.6,236.5 L219.4,238.6 L219.3,240.7 L219.2,242.9 L219.2,245.1 L219.2,248.1 L219.2,251.1 L219.2,254.2 L219.2,257.2 L219.2,260.2 L219.2,263.2 L219.2,266.3 L219.2,269.3 L219.2,272.3 L219.2,275.3 L219.2,278.3 L219.2,281.4 L219.2,284.4 L219.2,287.4 L219.2,290.4 L219.2,293.5 L219.2,296.5 L219.2,299.5 L219.2,302.5 L219.2,305.6 L219.2,308.6 L219.2,311.6 L219.2,314.6 L219.2,317.6 L219.2,320.7 L219.2,323.7 L219.2,326.7 L219.2,329.7 L219.2,332.8 L219.2,335.8 L219.2,338.8 L219.2,341.8 L219.2,344.8 L219.2,347.9 L219.2,350.9 L219.2,353.9 L219.2,356.9 L219.2,360.0 L219.2,363.0 L219.2,366.0Z"/></clipPath>
<g clip-path="url(#c1)" filter="url(#bl)">
<ellipse cx="231" cy="207" rx="9" ry="6" fill="#14fa78" transform="rotate(-30 231 207)"/>
<ellipse cx="205" cy="165" rx="16" ry="9" fill="#14fa78" transform="rotate(-50 205 165)"/>
<ellipse cx="268" cy="190" rx="14" ry="7" fill="#00dcff" transform="rotate(35 268 190)" opacity="0.8"/>
<ellipse cx="358.5" cy="292" rx="13" ry="36" fill="#14fa78"/>
<ellipse cx="358.5" cy="286" rx="9" ry="26" fill="#00f000"/>
<ellipse cx="358.5" cy="282" rx="6" ry="20" fill="#e1ff0a"/>
<ellipse cx="358.5" cy="280" rx="3.6" ry="17" fill="#ffdc0a"/>
<ellipse cx="358.5" cy="274" rx="2.2" ry="10" fill="#ffaa00"/>
</g>
<path d="M178.6,341.3 L178.7,338.2 L178.7,335.1 L178.8,332.0 L178.8,328.9 L178.8,325.8 L178.9,322.7 L178.9,319.5 L179.0,316.4 L179.0,313.3 L179.1,310.2 L179.2,307.1 L179.2,304.0 L179.2,300.9 L179.3,297.8 L179.3,294.7 L179.4,291.6 L179.4,288.5 L179.5,285.4 L179.5,282.3 L179.6,279.1 L179.7,276.0 L179.7,272.9 L179.8,269.8 L179.8,266.7 L179.8,263.6 L179.9,260.5 L179.9,257.4 L180.0,254.3 L180.0,251.2 L180.1,248.1 L180.2,245.0 L180.2,241.9 L180.2,238.8 L180.3,235.6 L180.3,232.5 L180.4,229.4 L180.4,226.3 L180.5,223.2 L180.5,220.1 L180.6,217.0 L180.0,213.6 L180.2,210.3 L180.4,207.0 L180.6,203.8 L181.0,200.7 L181.5,197.7 L182.0,194.7 L182.6,191.8 L183.3,189.0 L184.0,186.3 L184.9,183.6 L185.8,181.1 L186.8,178.6 L187.8,176.3 L189.0,174.0 L190.2,171.8 L191.5,169.7 L192.8,167.8 L194.3,165.9 L195.8,164.1 L197.3,162.5 L199.0,160.9 L200.7,159.5 L202.4,158.2 L204.2,156.9 L206.1,155.8 L208.0,154.9 L210.0,154.0 L212.1,153.2 L214.2,152.6 L216.3,152.1 L218.5,151.6 L220.7,151.4 L223.0,151.2 L225.3,151.1 L227.7,151.2 L230.1,151.4 L232.5,151.7 L235.0,152.1 L237.5,152.6 L240.0,153.3 L242.6,154.1 L245.2,155.0 L247.8,156.0 L250.4,157.1 L253.0,158.3 L255.7,159.7 L258.4,161.1 L261.0,162.7 L263.7,164.3 L266.4,166.1 L269.1,168.0 L271.8,170.0 L274.5,172.1 L277.2,174.3 L279.8,176.5 L282.5,178.9 L285.2,181.4 L287.8,183.9 L290.4,186.6 L293.0,189.3 L295.6,192.2 L298.2,195.1 L300.7,198.0 L303.2,201.1 L305.7,204.2 L308.1,207.4 L310.5,210.7 L312.9,214.0 L315.2,217.4 L317.5,220.9 L319.7,224.3 L322.0,227.7 L324.4,231.1 L326.8,234.4 L329.2,237.8 L331.7,241.0 L334.2,244.3 L336.7,247.6 L339.2,250.8 L341.7,254.1 L344.1,257.5 L346.4,260.9 L348.5,264.4 L350.4,268.0 L352.2,271.7 L353.7,275.6 L354.9,279.5 L355.9,283.5 L356.7,287.5 L357.3,291.6 L357.8,295.7 L358.0,299.8 L358.2,303.9 L358.2,308.0 L358.2,312.1 L358.2,316.2 L358.2,320.3 L358.2,324.4 L358.2,328.5 L358.2,332.7 L358.2,336.8 L358.2,340.9 L358.2,345.0 L358.2,348.1 L358.2,351.1 L358.2,354.2 L358.2,357.3 L358.2,360.3 L358.2,363.4 L358.2,366.5 L358.2,369.5 L358.2,372.6 L358.2,375.6 L358.2,378.7 L358.2,381.8 L358.2,384.8 L358.2,387.9 L358.2,391.0 L358.2,394.0 L358.2,397.1 L358.2,400.2 L358.2,403.2 L358.2,406.3 L358.2,409.4 L358.2,412.4 L358.2,415.5 L358.2,418.6 L358.2,421.6 L358.2,424.7 L358.2,427.8 L358.2,430.8 L358.2,433.9 L358.2,437.0 L358.2,440.0 L358.2,443.1 L358.2,446.1 L358.2,449.2 L358.2,452.3 L358.2,455.3 L358.2,458.4 L358.2,461.5 L358.2,464.5 L358.2,467.6 M192.1,349.5 L192.2,346.5 L192.2,343.4 L192.2,340.3 L192.3,337.2 L192.3,334.1 L192.3,331.1 L192.4,328.0 L192.4,324.9 L192.4,321.8 L192.5,318.7 L192.5,315.7 L192.5,312.6 L192.6,309.5 L192.6,306.4 L192.6,303.3 L192.7,300.3 L192.7,297.2 L192.7,294.1 L192.8,291.0 L192.8,287.9 L192.8,284.9 L192.9,281.8 L192.9,278.7 L192.9,275.6 L193.0,272.6 L193.0,269.5 L193.0,266.4 L193.1,263.3 L193.1,260.2 L193.1,257.2 L193.2,254.1 L193.2,251.0 L193.2,247.9 L193.3,244.8 L193.3,241.8 L193.3,238.7 L193.4,235.6 L193.4,232.5 L193.4,229.4 L193.5,226.4 L193.1,223.4 L193.2,220.4 L193.4,217.6 L193.6,214.7 L193.9,212.0 L194.3,209.3 L194.8,206.7 L195.3,204.1 L195.9,201.6 L196.5,199.2 L197.3,196.8 L198.0,194.6 L198.9,192.4 L199.8,190.3 L200.8,188.3 L201.8,186.3 L202.9,184.5 L204.1,182.7 L205.3,181.0 L206.6,179.4 L207.9,178.0 L209.3,176.6 L210.8,175.3 L212.3,174.1 L213.9,172.9 L215.5,171.9 L217.1,171.0 L218.8,170.2 L220.6,169.5 L222.4,168.9 L224.2,168.4 L226.1,168.0 L228.0,167.7 L230.0,167.5 L232.0,167.5 L234.0,167.5 L236.1,167.6 L238.2,167.8 L240.3,168.2 L242.4,168.6 L244.6,169.1 L246.8,169.8 L249.0,170.5 L251.3,171.3 L253.5,172.3 L255.8,173.3 L258.1,174.5 L260.3,175.7 L262.6,177.0 L264.9,178.5 L267.3,180.0 L269.6,181.6 L271.9,183.3 L274.2,185.1 L276.5,187.0 L278.8,189.0 L281.1,191.0 L283.4,193.1 L285.6,195.4 L287.9,197.7 L290.1,200.0 L292.3,202.5 L294.5,205.0 L296.7,207.6 L298.8,210.2 L301.0,212.9 L303.1,215.7 L305.1,218.6 L307.1,221.5 L309.1,224.4 L311.1,227.4 L313.0,230.4 L315.0,233.5 L317.0,236.4 L319.0,239.4 L321.0,242.4 L323.0,245.4 L325.0,248.3 L327.1,251.3 L329.1,254.2 L331.1,257.2 L333.0,260.3 L334.8,263.4 L336.6,266.5 L338.2,269.8 L339.6,273.1 L340.8,276.4 L341.9,279.9 L342.8,283.4 L343.6,286.9 L344.2,290.4 L344.7,294.0 L345.0,297.5 L345.3,301.1 L345.4,304.6 L345.6,308.2 L345.7,311.7 L345.8,315.2 L345.9,318.8 L345.9,322.3 L346.0,325.8 L346.0,329.3 L346.1,332.8 L346.1,336.3 L346.1,339.4 L346.1,342.4 L346.1,345.5 L346.1,348.6 L346.1,351.6 L346.1,354.7 L346.1,357.8 L346.1,360.8 L346.1,363.9 L346.1,367.0 L346.1,370.0 L346.1,373.1 L346.1,376.2 L346.1,379.2 L346.1,382.3 L346.1,385.4 L346.1,388.4 L346.1,391.5 L346.1,394.6 L346.1,397.6 L346.1,400.7 L346.1,403.7 L346.1,406.8 L346.1,409.9 L346.1,412.9 L346.1,416.0 L346.1,419.1 L346.1,422.1 L346.1,425.2 L346.1,428.3 L346.1,431.3 L346.1,434.4 L346.1,437.5 L346.1,440.5 L346.1,443.6 L346.1,446.7 L346.1,449.7 L346.1,452.8 L346.1,455.9 L346.1,458.9 M205.7,357.8 L205.7,354.7 L205.7,351.7 L205.7,348.6 L205.7,345.6 L205.8,342.5 L205.8,339.5 L205.8,336.4 L205.8,333.4 L205.8,330.3 L205.8,327.3 L205.8,324.2 L205.9,321.2 L205.9,318.1 L205.9,315.1 L205.9,312.0 L205.9,309.0 L205.9,305.9 L206.0,302.9 L206.0,299.8 L206.0,296.8 L206.0,293.7 L206.0,290.6 L206.0,287.6 L206.1,284.5 L206.1,281.5 L206.1,278.4 L206.1,275.4 L206.1,272.3 L206.1,269.3 L206.2,266.2 L206.2,263.2 L206.2,260.1 L206.2,257.1 L206.2,254.0 L206.2,251.0 L206.3,247.9 L206.3,244.9 L206.3,241.8 L206.3,238.8 L206.3,235.7 L206.2,233.1 L206.2,230.6 L206.4,228.1 L206.6,225.6 L206.9,223.2 L207.2,220.9 L207.6,218.6 L208.0,216.4 L208.5,214.2 L209.0,212.1 L209.6,210.0 L210.3,208.1 L211.0,206.1 L211.8,204.3 L212.6,202.5 L213.5,200.8 L214.4,199.2 L215.3,197.6 L216.4,196.1 L217.4,194.7 L218.6,193.4 L219.7,192.2 L220.9,191.0 L222.2,189.9 L223.5,189.0 L224.8,188.0 L226.2,187.2 L227.7,186.5 L229.1,185.8 L230.6,185.3 L232.2,184.8 L233.7,184.4 L235.3,184.1 L237.0,183.9 L238.6,183.8 L240.3,183.8 L242.1,183.8 L243.8,184.0 L245.6,184.2 L247.4,184.5 L249.2,184.9 L251.0,185.4 L252.9,186.0 L254.7,186.7 L256.6,187.5 L258.5,188.3 L260.4,189.3 L262.3,190.3 L264.3,191.4 L266.2,192.6 L268.1,193.9 L270.0,195.2 L272.0,196.6 L273.9,198.1 L275.8,199.7 L277.7,201.4 L279.6,203.1 L281.6,204.9 L283.4,206.8 L285.3,208.7 L287.2,210.7 L289.0,212.8 L290.9,214.9 L292.7,217.1 L294.5,219.4 L296.3,221.7 L298.0,224.0 L299.7,226.5 L301.4,228.9 L303.1,231.4 L304.7,234.0 L306.3,236.6 L307.9,239.2 L309.5,241.8 L311.2,244.4 L312.7,247.0 L314.3,249.7 L315.9,252.3 L317.5,255.0 L319.0,257.7 L320.5,260.4 L321.9,263.1 L323.3,265.8 L324.6,268.7 L325.9,271.5 L327.0,274.4 L328.0,277.3 L328.9,280.3 L329.7,283.2 L330.4,286.2 L331.0,289.2 L331.6,292.2 L332.0,295.3 L332.4,298.3 L332.7,301.3 L332.9,304.2 L333.2,307.2 L333.4,310.2 L333.5,313.1 L333.7,316.1 L333.8,319.0 L333.9,321.9 L333.9,324.7 L333.9,327.6 L333.9,330.7 L333.9,333.7 L333.9,336.8 L333.9,339.9 L333.9,342.9 L333.9,346.0 L333.9,349.1 L333.9,352.1 L333.9,355.2 L333.9,358.3 L333.9,361.3 L333.9,364.4 L333.9,367.5 L333.9,370.5 L333.9,373.6 L333.9,376.7 L333.9,379.7 L333.9,382.8 L333.9,385.9 L333.9,388.9 L333.9,392.0 L333.9,395.1 L333.9,398.1 L333.9,401.2 L333.9,404.3 L333.9,407.3 L333.9,410.4 L333.9,413.5 L333.9,416.5 L333.9,419.6 L333.9,422.7 L333.9,425.7 L333.9,428.8 L333.9,431.9 L333.9,434.9 L333.9,438.0 L333.9,441.1 L333.9,444.1 L333.9,447.2 L333.9,450.3 M219.2,366.0 L219.2,363.0 L219.2,360.0 L219.2,356.9 L219.2,353.9 L219.2,350.9 L219.2,347.9 L219.2,344.8 L219.2,341.8 L219.2,338.8 L219.2,335.8 L219.2,332.8 L219.2,329.7 L219.2,326.7 L219.2,323.7 L219.2,320.7 L219.2,317.6 L219.2,314.6 L219.2,311.6 L219.2,308.6 L219.2,305.6 L219.2,302.5 L219.2,299.5 L219.2,296.5 L219.2,293.5 L219.2,290.4 L219.2,287.4 L219.2,284.4 L219.2,281.4 L219.2,278.3 L219.2,275.3 L219.2,272.3 L219.2,269.3 L219.2,266.3 L219.2,263.2 L219.2,260.2 L219.2,257.2 L219.2,254.2 L219.2,251.1 L219.2,248.1 L219.2,245.1 L219.2,242.9 L219.3,240.7 L219.4,238.6 L219.6,236.5 L219.8,234.5 L220.0,232.5 L220.3,230.6 L220.7,228.7 L221.1,226.8 L221.5,225.0 L222.0,223.2 L222.5,221.5 L223.1,219.9 L223.7,218.3 L224.4,216.8 L225.1,215.3 L225.8,213.9 L226.6,212.6 L227.4,211.3 L228.3,210.0 L229.2,208.9 L230.1,207.8 L231.1,206.8 L232.1,205.8 L233.1,205.0 L234.2,204.1 L235.3,203.4 L236.5,202.7 L237.7,202.1 L238.9,201.6 L240.1,201.2 L241.4,200.8 L242.6,200.5 L244.0,200.3 L245.3,200.1 L246.7,200.0 L248.0,200.0 L249.4,200.1 L250.9,200.3 L252.3,200.5 L253.8,200.8 L255.2,201.1 L256.7,201.6 L258.2,202.1 L259.7,202.7 L261.3,203.3 L262.8,204.1 L264.3,204.9 L265.9,205.8 L267.4,206.7 L269.0,207.7 L270.5,208.8 L272.0,209.9 L273.6,211.2 L275.1,212.4 L276.7,213.8 L278.2,215.2 L279.7,216.7 L281.3,218.2 L282.8,219.8 L284.3,221.4 L285.8,223.1 L287.2,224.8 L288.7,226.6 L290.1,228.5 L291.6,230.4 L293.0,232.3 L294.3,234.3 L295.7,236.4 L297.0,238.4 L298.4,240.6 L299.6,242.7 L300.9,244.9 L302.1,247.1 L303.3,249.4 L304.5,251.7 L305.7,254.0 L306.8,256.3 L307.9,258.7 L308.9,261.1 L309.9,263.5 L310.9,265.9 L311.8,268.3 L312.7,270.8 L313.6,273.2 L314.4,275.7 L315.2,278.2 L315.9,280.7 L316.6,283.1 L317.3,285.6 L317.9,288.1 L318.5,290.5 L319.0,293.0 L319.5,295.5 L319.9,297.9 L320.3,300.3 L320.7,302.7 L321.0,305.1 L321.2,307.5 L321.4,309.8 L321.6,312.1 L321.7,314.4 L321.8,316.7 L321.8,318.9 L321.8,322.0 L321.8,325.0 L321.8,328.1 L321.8,331.2 L321.8,334.2 L321.8,337.3 L321.8,340.4 L321.8,343.4 L321.8,346.5 L321.8,349.6 L321.8,352.6 L321.8,355.7 L321.8,358.8 L321.8,361.8 L321.8,364.9 L321.8,368.0 L321.8,371.0 L321.8,374.1 L321.8,377.2 L321.8,380.2 L321.8,383.3 L321.8,386.4 L321.8,389.5 L321.8,392.5 L321.8,395.6 L321.8,398.7 L321.8,401.7 L321.8,404.8 L321.8,407.9 L321.8,410.9 L321.8,414.0 L321.8,417.1 L321.8,420.1 L321.8,423.2 L321.8,426.3 L321.8,429.3 L321.8,432.4 L321.8,435.5 L321.8,438.5 L321.8,441.6 M178.6,341.3 L192.1,349.5 L205.7,357.8 L219.2,366.0 M178.8,328.9 L192.3,337.2 L205.7,345.6 L219.2,353.9 M179.0,316.4 L192.4,324.9 L205.8,333.4 L219.2,341.8 M179.2,304.0 L192.5,312.6 L205.9,321.2 L219.2,329.7 M179.4,291.6 L192.7,300.3 L205.9,309.0 L219.2,317.6 M179.6,279.1 L192.8,287.9 L206.0,296.8 L219.2,305.6 M179.8,266.7 L192.9,275.6 L206.1,284.5 L219.2,293.5 M180.0,254.3 L193.1,263.3 L206.1,272.3 L219.2,281.4 M180.2,241.9 L193.2,251.0 L206.2,260.1 L219.2,269.3 M180.4,229.4 L193.3,238.7 L206.3,247.9 L219.2,257.2 M180.6,217.0 L193.5,226.4 L206.3,235.7 L219.2,245.1 M180.6,203.8 L193.6,214.7 L206.6,225.6 L219.6,236.5 M182.6,191.8 L195.3,204.1 L208.0,216.4 L220.7,228.7 M185.8,181.1 L198.0,194.6 L210.3,208.1 L222.5,221.5 M190.2,171.8 L201.8,186.3 L213.5,200.8 L225.1,215.3 M195.8,164.1 L206.6,179.4 L217.4,194.7 L228.3,210.0 M202.4,158.2 L212.3,174.1 L222.2,189.9 L232.1,205.8 M210.0,154.0 L218.8,170.2 L227.7,186.5 L236.5,202.7 M218.5,151.6 L226.1,168.0 L233.7,184.4 L241.4,200.8 M227.7,151.2 L234.0,167.5 L240.3,183.8 L246.7,200.0 M237.5,152.6 L242.4,168.6 L247.4,184.5 L252.3,200.5 M247.8,156.0 L251.3,171.3 L254.7,186.7 L258.2,202.1 M258.4,161.1 L260.3,175.7 L262.3,190.3 L264.3,204.9 M269.1,168.0 L269.6,181.6 L270.0,195.2 L270.5,208.8 M279.8,176.5 L278.8,189.0 L277.7,201.4 L276.7,213.8 M290.4,186.6 L287.9,197.7 L285.3,208.7 L282.8,219.8 M300.7,198.0 L296.7,207.6 L292.7,217.1 L288.7,226.6 M310.5,210.7 L305.1,218.6 L299.7,226.5 L294.3,234.3 M319.7,224.3 L313.0,230.4 L306.3,236.6 L299.6,242.7 M329.2,237.8 L321.0,242.4 L312.7,247.0 L304.5,251.7 M339.2,250.8 L329.1,254.2 L319.0,257.7 L308.9,261.1 M348.5,264.4 L336.6,266.5 L324.6,268.7 L312.7,270.8 M354.9,279.5 L341.9,279.9 L328.9,280.3 L315.9,280.7 M357.8,295.7 L344.7,294.0 L331.6,292.2 L318.5,290.5 M358.2,312.1 L345.6,308.2 L332.9,304.2 L320.3,300.3 M358.2,328.5 L345.9,322.3 L333.7,316.1 L321.4,309.8 M358.2,345.0 L346.1,336.3 L333.9,327.6 L321.8,318.9 M358.2,357.3 L346.1,348.6 L333.9,339.9 L321.8,331.2 M358.2,369.5 L346.1,360.8 L333.9,352.1 L321.8,343.4 M358.2,381.8 L346.1,373.1 L333.9,364.4 L321.8,355.7 M358.2,394.0 L346.1,385.4 L333.9,376.7 L321.8,368.0 M358.2,406.3 L346.1,397.6 L333.9,388.9 L321.8,380.2 M358.2,418.6 L346.1,409.9 L333.9,401.2 L321.8,392.5 M358.2,430.8 L346.1,422.1 L333.9,413.5 L321.8,404.8 M358.2,443.1 L346.1,434.4 L333.9,425.7 L321.8,417.1 M358.2,455.3 L346.1,446.7 L333.9,438.0 L321.8,429.3 M358.2,467.6 L346.1,458.9 L333.9,450.3 L321.8,441.6" fill="none" stroke="#0a3034" stroke-width="1.3" opacity="0.84"/>
<path d="M358.2,467.6 L358.4,306.0 L358.8,306.0 L358.9,301.8 L359.1,297.7 L359.4,293.8 L359.9,290.1 L360.5,286.6 L361.3,283.2 L362.1,280.0 L363.2,276.9 L364.3,273.9 L365.6,271.1 L367.0,268.4 L368.5,265.7 L370.2,263.1 L371.9,260.5 L373.8,257.8 L375.8,255.2 L377.9,252.5 L380.1,249.7 L382.5,246.8 L384.9,243.7 L387.4,240.5 L390.0,237.0 L392.7,233.3 L395.5,229.4 L398.4,225.1 L401.3,220.6 L404.4,216.3 L407.4,212.0 L410.6,207.9 L413.8,203.9 L417.1,200.0 L420.4,196.2 L423.7,192.5 L427.1,189.0 L430.5,185.6 L434.0,182.4 L437.4,179.3 L440.9,176.4 L444.4,173.6 L447.9,171.0 L451.4,168.6 L454.9,166.3 L458.4,164.2 L461.8,162.3 L465.3,160.6 L468.7,159.1 L472.1,157.8 L475.4,156.6 L478.7,155.6 L482.0,154.9 L485.2,154.3 L488.4,153.9 L491.4,153.8 L494.5,153.8 L497.4,154.0 L500.3,154.4 L503.1,155.0 L505.8,155.8 L508.4,156.8 L510.9,158.0 L513.3,159.3 L515.7,160.9 L517.9,162.6 L520.0,164.6 L522.0,166.7 L523.9,169.0 L525.6,171.4 L527.3,174.0 L528.8,176.8 L530.2,179.8 L531.5,182.9 L532.6,186.1 L533.7,189.5 L534.5,193.1 L535.3,196.8 L535.9,200.6 L536.4,204.5 L536.7,208.6 L536.9,212.7 L537.0,217.0 L536.5,340.5 L462.7,390.7 L464.0,275.6 L429.0,299.0 L429.5,418.0Z" fill="#1cfedb"/>
<clipPath id="c2"><path d="M358.2,467.6 L358.4,306.0 L358.8,306.0 L358.9,301.8 L359.1,297.7 L359.4,293.8 L359.9,290.1 L360.5,286.6 L361.3,283.2 L362.1,280.0 L363.2,276.9 L364.3,273.9 L365.6,271.1 L367.0,268.4 L368.5,265.7 L370.2,263.1 L371.9,260.5 L373.8,257.8 L375.8,255.2 L377.9,252.5 L380.1,249.7 L382.5,246.8 L384.9,243.7 L387.4,240.5 L390.0,237.0 L392.7,233.3 L395.5,229.4 L398.4,225.1 L401.3,220.6 L404.4,216.3 L407.4,212.0 L410.6,207.9 L413.8,203.9 L417.1,200.0 L420.4,196.2 L423.7,192.5 L427.1,189.0 L430.5,185.6 L434.0,182.4 L437.4,179.3 L440.9,176.4 L444.4,173.6 L447.9,171.0 L451.4,168.6 L454.9,166.3 L458.4,164.2 L461.8,162.3 L465.3,160.6 L468.7,159.1 L472.1,157.8 L475.4,156.6 L478.7,155.6 L482.0,154.9 L485.2,154.3 L488.4,153.9 L491.4,153.8 L494.5,153.8 L497.4,154.0 L500.3,154.4 L503.1,155.0 L505.8,155.8 L508.4,156.8 L510.9,158.0 L513.3,159.3 L515.7,160.9 L517.9,162.6 L520.0,164.6 L522.0,166.7 L523.9,169.0 L525.6,171.4 L527.3,174.0 L528.8,176.8 L530.2,179.8 L531.5,182.9 L532.6,186.1 L533.7,189.5 L534.5,193.1 L535.3,196.8 L535.9,200.6 L536.4,204.5 L536.7,208.6 L536.9,212.7 L537.0,217.0 L536.5,340.5 L462.7,390.7 L464.0,275.6 L429.0,299.0 L429.5,418.0Z"/></clipPath>
<clipPath id="c2i"><path d="M358.2,467.6 L356.8,308.0 L358.8,306.0 L359.4,301.4 L360.2,297.0 L361.0,292.9 L362.0,289.0 L363.1,285.3 L364.4,281.9 L365.7,278.6 L367.2,275.6 L368.8,272.8 L370.5,270.1 L372.2,267.6 L374.1,265.2 L376.0,262.9 L378.1,260.7 L380.1,258.5 L381.9,256.3 L383.9,254.0 L385.9,251.6 L388.0,249.1 L390.3,246.5 L392.6,243.6 L395.0,240.6 L397.4,237.3 L400.0,233.7 L402.6,229.8 L405.3,225.8 L408.1,221.8 L410.9,217.9 L413.8,214.1 L416.7,210.4 L419.7,206.8 L422.7,203.4 L425.8,200.0 L428.9,196.8 L432.0,193.7 L435.1,190.7 L438.3,187.9 L441.5,185.3 L444.7,182.7 L447.9,180.3 L451.1,178.1 L454.3,176.1 L457.5,174.2 L460.7,172.4 L463.8,170.9 L466.9,169.5 L470.0,168.2 L473.1,167.2 L476.1,166.3 L479.1,165.6 L482.0,165.1 L484.9,164.7 L487.7,164.6 L490.5,164.6 L493.2,164.8 L495.8,165.2 L498.4,165.7 L500.8,166.4 L503.2,167.3 L505.5,168.4 L507.8,169.7 L509.9,171.1 L511.9,172.7 L513.9,174.5 L515.7,176.4 L517.7,178.0 L519.8,179.7 L521.7,181.5 L523.6,183.6 L525.3,185.8 L527.0,188.1 L528.6,190.7 L530.1,193.4 L531.4,196.3 L532.7,199.3 L533.8,202.5 L534.8,205.9 L535.6,209.4 L536.4,213.1 L537.0,217.0 L540.0,219.0 L545.0,340.5 L545.0,480.0 L358.2,480.0Z"/></clipPath>
<g clip-path="url(#c2)" filter="url(#bl)">
<ellipse cx="512" cy="168" rx="10" ry="8" fill="#14fa78"/>
<ellipse cx="358.5" cy="292" rx="13" ry="36" fill="#14fa78"/>
<ellipse cx="358.5" cy="286" rx="9" ry="26" fill="#00f000"/>
<ellipse cx="358.5" cy="282" rx="6" ry="20" fill="#e1ff0a"/>
<ellipse cx="358.5" cy="280" rx="3.6" ry="17" fill="#ffdc0a"/>
<ellipse cx="358.5" cy="274" rx="2.2" ry="10" fill="#ffaa00"/>
</g>
<g clip-path="url(#c2)"><path d="M372.6,140 L372.6,470 M386.7,140 L386.7,470 M400.9,140 L400.9,470 M415.0,140 L415.0,470 M429.1,140 L429.1,470 M441.0,140 L441.0,470 M452.5,140 L452.5,470 M464.0,140 L464.0,470 M478.5,140 L478.5,470 M493.0,140 L493.0,470 M507.5,140 L507.5,470 M522.0,140 L522.0,470 M358.2,455.2 L545,322.1 M358.2,442.9 L545,309.7 M358.2,430.6 L545,297.4 M358.2,418.2 L545,285.0 M358.2,405.9 L545,272.7 M358.2,393.5 L545,260.3 M358.2,381.2 L545,248.0 M358.2,368.8 L545,235.6 M358.2,356.5 L545,223.3 M358.2,344.1 L545,210.9 M358.2,331.8 L545,198.6 M358.2,319.4 L545,186.2 M358.2,307.1 L545,173.9 M358.2,294.7 L545,161.5 M358.2,282.4 L545,149.2 M358.2,270.0 L545,136.8 M358.2,257.7 L545,124.5 M358.2,245.3 L545,112.1 M358.2,233.0 L545,99.8 M358.2,220.6 L545,87.4 M358.2,208.3 L545,75.1 M358.2,195.9 L545,62.7 M358.2,183.6 L545,50.4 M358.2,171.2 L545,38.0 M358.2,158.9 L545,25.7" fill="none" stroke="#0a3034" stroke-width="1.3" opacity="0.84" clip-path="url(#c2i)"/></g>
<path d="M358.8,306.0 L359.4,301.4 L360.2,297.0 L361.0,292.9 L362.0,289.0 L363.1,285.3 L364.4,281.9 L365.7,278.6 L367.2,275.6 L368.8,272.8 L370.5,270.1 L372.2,267.6 L374.1,265.2 L376.0,262.9 L378.1,260.7 L380.1,258.5 L381.9,256.3 L383.9,254.0 L385.9,251.6 L388.0,249.1 L390.3,246.5 L392.6,243.6 L395.0,240.6 L397.4,237.3 L400.0,233.7 L402.6,229.8 L405.3,225.8 L408.1,221.8 L410.9,217.9 L413.8,214.1 L416.7,210.4 L419.7,206.8 L422.7,203.4 L425.8,200.0 L428.9,196.8 L432.0,193.7 L435.1,190.7 L438.3,187.9 L441.5,185.3 L444.7,182.7 L447.9,180.3 L451.1,178.1 L454.3,176.1 L457.5,174.2 L460.7,172.4 L463.8,170.9 L466.9,169.5 L470.0,168.2 L473.1,167.2 L476.1,166.3 L479.1,165.6 L482.0,165.1 L484.9,164.7 L487.7,164.6 L490.5,164.6 L493.2,164.8 L495.8,165.2 L498.4,165.7 L500.8,166.4 L503.2,167.3 L505.5,168.4 L507.8,169.7 L509.9,171.1 L511.9,172.7 L513.9,174.5 L515.7,176.4 L517.7,178.0 L519.8,179.7 L521.7,181.5 L523.6,183.6 L525.3,185.8 L527.0,188.1 L528.6,190.7 L530.1,193.4 L531.4,196.3 L532.7,199.3 L533.8,202.5 L534.8,205.9 L535.6,209.4 L536.4,213.1 L537.0,217.0 M359.1,297.3 L360.2,296.6 M360.0,289.3 L362.3,288.2 M361.5,282.2 L364.8,280.8 M363.6,275.6 L367.9,274.4 M366.3,269.7 L371.4,268.8 M369.5,264.0 L375.3,263.7 M373.3,258.5 L379.6,259.1 M377.6,252.9 L383.6,254.4 M382.3,246.9 L387.9,249.3 M387.6,240.3 L392.7,243.5 M393.2,232.7 L397.8,236.7 M399.2,223.9 L403.3,228.8 M405.5,214.7 L409.1,220.4 M412.1,206.0 L415.2,212.4 M419.0,197.7 L421.4,204.8 M426.0,190.1 L427.9,197.8 M433.2,183.0 L434.5,191.4 M440.5,176.7 L441.2,185.5 M447.9,171.0 L447.9,180.3 M455.3,166.1 L454.6,175.9 M462.6,162.0 L461.3,172.1 M469.8,158.7 L467.9,169.1 M476.8,156.2 L474.4,166.8 M483.7,154.6 L480.6,165.3 M490.3,153.8 L486.7,164.6 M496.6,153.9 L492.5,164.7 M502.6,154.9 L498.0,165.6 M508.2,156.7 L503.1,167.3 M513.5,159.4 L507.9,169.7 M518.2,162.9 L512.2,173.0 M522.5,167.3 L516.2,176.9 M526.3,172.4 L520.5,180.4 M529.5,178.2 L524.4,184.6 M532.2,184.8 L527.9,189.6 M534.3,192.0 L531.0,195.3 M535.8,199.8 L533.5,201.8 M536.7,208.1 L535.6,209.1" fill="none" stroke="#0a3034" stroke-width="1.3" opacity="0.84" clip-path="url(#c2)"/>
<path d="M358.2,467.6 L358.4,306.0 L358.8,306.0 L358.9,301.8 L359.1,297.7 L359.4,293.8 L359.9,290.1 L360.5,286.6 L361.3,283.2 L362.1,280.0 L363.2,276.9 L364.3,273.9 L365.6,271.1 L367.0,268.4 L368.5,265.7 L370.2,263.1 L371.9,260.5 L373.8,257.8 L375.8,255.2 L377.9,252.5 L380.1,249.7 L382.5,246.8 L384.9,243.7 L387.4,240.5 L390.0,237.0 L392.7,233.3 L395.5,229.4 L398.4,225.1 L401.3,220.6 L404.4,216.3 L407.4,212.0 L410.6,207.9 L413.8,203.9 L417.1,200.0 L420.4,196.2 L423.7,192.5 L427.1,189.0 L430.5,185.6 L434.0,182.4 L437.4,179.3 L440.9,176.4 L444.4,173.6 L447.9,171.0 L451.4,168.6 L454.9,166.3 L458.4,164.2 L461.8,162.3 L465.3,160.6 L468.7,159.1 L472.1,157.8 L475.4,156.6 L478.7,155.6 L482.0,154.9 L485.2,154.3 L488.4,153.9 L491.4,153.8 L494.5,153.8 L497.4,154.0 L500.3,154.4 L503.1,155.0 L505.8,155.8 L508.4,156.8 L510.9,158.0 L513.3,159.3 L515.7,160.9 L517.9,162.6 L520.0,164.6 L522.0,166.7 L523.9,169.0 L525.6,171.4 L527.3,174.0 L528.8,176.8 L530.2,179.8 L531.5,182.9 L532.6,186.1 L533.7,189.5 L534.5,193.1 L535.3,196.8 L535.9,200.6 L536.4,204.5 L536.7,208.6 L536.9,212.7 L537.0,217.0 L536.5,340.5 L462.7,390.7 L464.0,275.6 L429.0,299.0 L429.5,418.0Z" fill="none" stroke="#0a3034" stroke-width="1.05" opacity="0.88"/>
<path d="M358.3,306 L358.2,467.6" fill="none" stroke="#0a3034" stroke-width="1.2" opacity="0.9"/>
<path d="M175.3,341.7 L181.1,341.3 L177.5,346.9Z" fill="#1c1896"/>
<path d="M188.3,349.7 L194.1,349.3 L190.5,354.9Z" fill="#1c1896"/>
<path d="M201.8,357.9 L207.6,357.5 L204.0,363.1Z" fill="#1c1896"/>
<path d="M215.3,366.1 L221.1,365.7 L217.5,371.3Z" fill="#1c1896"/>
<path d="M225.8,308.9 L231.6,308.5 L228.0,314.1Z" fill="#1c1896"/>
<path d="M239.3,299.8 L245.1,299.4 L241.5,305.0Z" fill="#1c1896"/>
<path d="M252.8,290.7 L258.6,290.3 L255.0,295.9Z" fill="#1c1896"/>
<path d="M264.8,282.6 L270.6,282.2 L267.0,287.8Z" fill="#1c1896"/>
<path d="M277.3,274.1 L283.1,273.7 L279.5,279.3Z" fill="#1c1896"/>
<path d="M289.8,265.7 L295.6,265.3 L292.0,270.9Z" fill="#1c1896"/>
<path d="M300.3,258.6 L306.1,258.2 L302.5,263.8Z" fill="#1c1896"/>
<path d="M318.6,442.2 L324.4,441.8 L320.8,447.4Z" fill="#1c1896"/>
<path d="M330.3,450.5 L336.1,450.1 L332.5,455.7Z" fill="#1c1896"/>
<path d="M342.3,459.1 L348.1,458.7 L344.5,464.3Z" fill="#1c1896"/>
<path d="M354.5,467.8 L360.3,467.4 L356.7,473.0Z" fill="#1c1896"/>
<path d="M368.9,457.8 L374.7,457.4 L371.1,463.0Z" fill="#1c1896"/>
<path d="M383.0,448.0 L388.8,447.6 L385.2,453.2Z" fill="#1c1896"/>
<path d="M397.2,438.1 L403.0,437.7 L399.4,443.3Z" fill="#1c1896"/>
<path d="M411.3,428.3 L417.1,427.9 L413.5,433.5Z" fill="#1c1896"/>
<path d="M425.4,418.5 L431.2,418.1 L427.6,423.7Z" fill="#1c1896"/>
<path d="M459.5,390.6 L465.3,390.2 L461.7,395.8Z" fill="#1c1896"/>
<path d="M474.8,380.2 L480.6,379.8 L477.0,385.4Z" fill="#1c1896"/>
<path d="M489.3,370.3 L495.1,369.9 L491.5,375.5Z" fill="#1c1896"/>
<path d="M503.8,360.4 L509.6,360.0 L506.0,365.6Z" fill="#1c1896"/>
<path d="M518.3,350.6 L524.1,350.2 L520.5,355.8Z" fill="#1c1896"/>
<path d="M532.8,340.7 L538.6,340.3 L535.0,345.9Z" fill="#1c1896"/>
<g fill="#0a3034" opacity="0.85"><circle cx="269.4" cy="49.0" r="1.15"/><circle cx="447.9" cy="49.5" r="1.15"/><circle cx="276.9" cy="43.9" r="1.15"/><circle cx="455.4" cy="55.2" r="1.15"/><circle cx="284.6" cy="39.3" r="1.15"/><circle cx="463.0" cy="61.6" r="1.15"/><circle cx="292.6" cy="35.2" r="1.15"/><circle cx="471.1" cy="69.1" r="1.15"/><circle cx="301.6" cy="31.6" r="1.15"/><circle cx="480.0" cy="78.4" r="1.15"/><circle cx="311.4" cy="28.8" r="1.15"/><circle cx="489.8" cy="89.9" r="1.15"/><circle cx="322.1" cy="27.6" r="1.15"/><circle cx="500.5" cy="104.3" r="1.15"/><circle cx="333.8" cy="29.3" r="1.15"/><circle cx="512.1" cy="122.9" r="1.15"/><circle cx="346.3" cy="37.2" r="1.15"/><circle cx="524.5" cy="149.2" r="1.15"/><circle cx="261.9" cy="54.7" r="1.15"/><circle cx="440.4" cy="44.4" r="1.15"/><circle cx="254.2" cy="61.1" r="1.15"/><circle cx="432.8" cy="39.9" r="1.15"/><circle cx="246.2" cy="68.5" r="1.15"/><circle cx="424.7" cy="35.9" r="1.15"/><circle cx="237.2" cy="77.7" r="1.15"/><circle cx="415.8" cy="32.3" r="1.15"/><circle cx="227.4" cy="89.0" r="1.15"/><circle cx="406.0" cy="29.7" r="1.15"/><circle cx="216.7" cy="103.1" r="1.15"/><circle cx="395.3" cy="28.8" r="1.15"/><circle cx="205.0" cy="121.4" r="1.15"/><circle cx="383.7" cy="30.8" r="1.15"/><circle cx="192.5" cy="147.3" r="1.15"/><circle cx="371.3" cy="39.1" r="1.15"/><circle cx="219.2" cy="366.0" r="1.15"/><circle cx="219.2" cy="353.9" r="1.15"/><circle cx="219.2" cy="341.8" r="1.15"/><circle cx="219.2" cy="329.7" r="1.15"/><circle cx="219.2" cy="317.6" r="1.15"/><circle cx="219.2" cy="305.6" r="1.15"/><circle cx="219.2" cy="293.5" r="1.15"/><circle cx="219.2" cy="281.4" r="1.15"/><circle cx="219.2" cy="269.3" r="1.15"/><circle cx="219.2" cy="257.2" r="1.15"/><circle cx="219.2" cy="245.1" r="1.15"/><circle cx="219.6" cy="236.5" r="1.15"/><circle cx="220.7" cy="228.7" r="1.15"/><circle cx="222.5" cy="221.5" r="1.15"/><circle cx="225.1" cy="215.3" r="1.15"/><circle cx="228.3" cy="210.0" r="1.15"/><circle cx="232.1" cy="205.8" r="1.15"/><circle cx="236.5" cy="202.7" r="1.15"/><circle cx="241.4" cy="200.8" r="1.15"/><circle cx="246.7" cy="200.0" r="1.15"/><circle cx="252.3" cy="200.5" r="1.15"/><circle cx="258.2" cy="202.1" r="1.15"/><circle cx="264.3" cy="204.9" r="1.15"/><circle cx="270.5" cy="208.8" r="1.15"/><circle cx="276.7" cy="213.8" r="1.15"/><circle cx="282.8" cy="219.8" r="1.15"/><circle cx="288.7" cy="226.6" r="1.15"/><circle cx="294.3" cy="234.3" r="1.15"/><circle cx="299.6" cy="242.7" r="1.15"/><circle cx="304.5" cy="251.7" r="1.15"/><circle cx="308.9" cy="261.1" r="1.15"/><circle cx="312.7" cy="270.8" r="1.15"/><circle cx="315.9" cy="280.7" r="1.15"/><circle cx="318.5" cy="290.5" r="1.15"/><circle cx="320.3" cy="300.3" r="1.15"/><circle cx="321.4" cy="309.8" r="1.15"/><circle cx="321.8" cy="318.9" r="1.15"/><circle cx="321.8" cy="331.2" r="1.15"/><circle cx="321.8" cy="343.4" r="1.15"/><circle cx="321.8" cy="355.7" r="1.15"/><circle cx="321.8" cy="368.0" r="1.15"/><circle cx="321.8" cy="380.2" r="1.15"/><circle cx="321.8" cy="392.5" r="1.15"/><circle cx="321.8" cy="404.8" r="1.15"/><circle cx="321.8" cy="417.1" r="1.15"/><circle cx="321.8" cy="429.3" r="1.15"/><circle cx="321.8" cy="441.6" r="1.15"/><circle cx="178.6" cy="341.3" r="1.15"/><circle cx="178.8" cy="328.9" r="1.15"/><circle cx="179.0" cy="316.4" r="1.15"/><circle cx="179.2" cy="304.0" r="1.15"/><circle cx="179.4" cy="291.6" r="1.15"/><circle cx="179.6" cy="279.1" r="1.15"/><circle cx="179.8" cy="266.7" r="1.15"/><circle cx="180.0" cy="254.3" r="1.15"/><circle cx="180.2" cy="241.9" r="1.15"/><circle cx="180.4" cy="229.4" r="1.15"/><circle cx="180.6" cy="217.0" r="1.15"/><circle cx="536.5" cy="340.5" r="1.15"/><circle cx="464.0" cy="392.2" r="1.15"/><circle cx="429.2" cy="417.0" r="1.15"/><circle cx="536.6" cy="328.1" r="1.15"/><circle cx="464.0" cy="379.8" r="1.15"/><circle cx="429.2" cy="404.6" r="1.15"/><circle cx="536.7" cy="315.8" r="1.15"/><circle cx="464.0" cy="367.5" r="1.15"/><circle cx="429.2" cy="392.3" r="1.15"/><circle cx="536.8" cy="303.4" r="1.15"/><circle cx="464.0" cy="355.1" r="1.15"/><circle cx="429.2" cy="379.9" r="1.15"/><circle cx="536.9" cy="291.1" r="1.15"/><circle cx="464.0" cy="342.8" r="1.15"/><circle cx="429.2" cy="367.6" r="1.15"/><circle cx="537.0" cy="278.8" r="1.15"/><circle cx="464.0" cy="330.4" r="1.15"/><circle cx="429.2" cy="355.2" r="1.15"/><circle cx="537.1" cy="266.4" r="1.15"/><circle cx="464.0" cy="318.1" r="1.15"/><circle cx="429.2" cy="342.9" r="1.15"/><circle cx="537.2" cy="254.1" r="1.15"/><circle cx="464.0" cy="305.7" r="1.15"/><circle cx="429.2" cy="330.5" r="1.15"/><circle cx="537.3" cy="241.7" r="1.15"/><circle cx="464.0" cy="293.4" r="1.15"/><circle cx="429.2" cy="318.2" r="1.15"/><circle cx="537.4" cy="229.4" r="1.15"/><circle cx="464.0" cy="281.0" r="1.15"/><circle cx="429.2" cy="305.8" r="1.15"/><circle cx="537.5" cy="217.0" r="1.15"/></g>
</g>
<ellipse cx="271" cy="55.5" rx="31.3" ry="29.6" fill="none" stroke="#f01418" stroke-width="2.6"/>
<ellipse cx="446.3" cy="179.5" rx="50.3" ry="37.3" fill="none" stroke="#f01418" stroke-width="2.6"/>
<text class="lb" x="214.7" y="22.3">P4</text>
<text class="lb" x="459.8" y="22.3">P3</text>
<text class="lb" x="240.2" y="421.1">P1</text>
<text class="lb" x="457.9" y="429.8">P2</text>
</svg>
</body></html>
